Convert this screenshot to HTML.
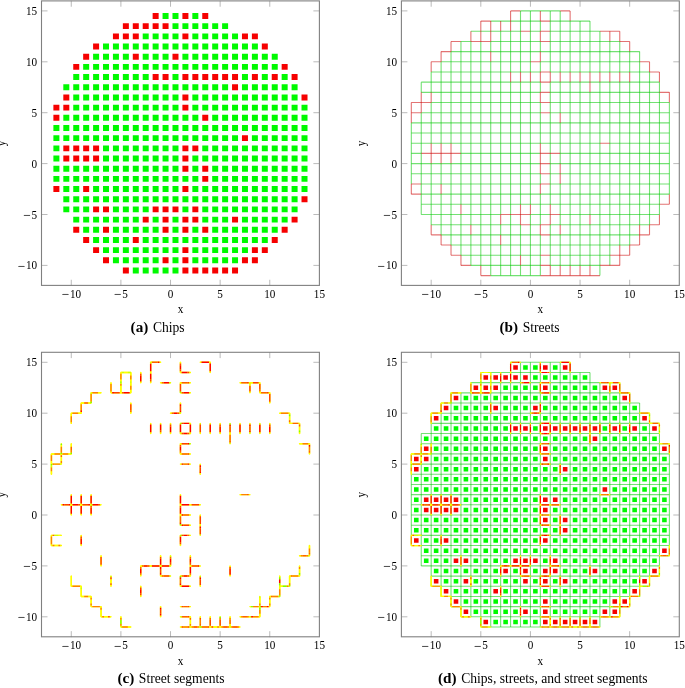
<!DOCTYPE html>
<html><head><meta charset="utf-8"><style>
html,body{margin:0;padding:0;background:#fff;width:685px;height:688px;overflow:hidden}
svg{display:block}
text{font-family:"Liberation Serif",serif;font-size:11.2px;fill:#000}
text.cap{font-size:13.6px}
</style></head><body>
<svg width="685" height="688" viewBox="0 0 685 688"><g transform="translate(0 0)"><path d="M162.56 13.04h6v5.9h-6zM172.49 13.04h6v5.9h-6zM192.34 13.04h6v5.9h-6zM172.49 23.22h6v5.9h-6zM182.41 23.22h6v5.9h-6zM192.34 23.22h6v5.9h-6zM202.26 23.22h6v5.9h-6zM212.19 23.22h6v5.9h-6zM222.11 23.22h6v5.9h-6zM142.71 33.4h6v5.9h-6zM152.64 33.4h6v5.9h-6zM162.56 33.4h6v5.9h-6zM172.49 33.4h6v5.9h-6zM192.34 33.4h6v5.9h-6zM202.26 33.4h6v5.9h-6zM212.19 33.4h6v5.9h-6zM222.11 33.4h6v5.9h-6zM232.04 33.4h6v5.9h-6zM103.01 43.58h6v5.9h-6zM112.94 43.58h6v5.9h-6zM122.86 43.58h6v5.9h-6zM132.79 43.58h6v5.9h-6zM142.71 43.58h6v5.9h-6zM152.64 43.58h6v5.9h-6zM162.56 43.58h6v5.9h-6zM172.49 43.58h6v5.9h-6zM182.41 43.58h6v5.9h-6zM192.34 43.58h6v5.9h-6zM202.26 43.58h6v5.9h-6zM212.19 43.58h6v5.9h-6zM222.11 43.58h6v5.9h-6zM232.04 43.58h6v5.9h-6zM241.96 43.58h6v5.9h-6zM251.89 43.58h6v5.9h-6zM93.09 53.76h6v5.9h-6zM103.01 53.76h6v5.9h-6zM112.94 53.76h6v5.9h-6zM122.86 53.76h6v5.9h-6zM142.71 53.76h6v5.9h-6zM152.64 53.76h6v5.9h-6zM162.56 53.76h6v5.9h-6zM182.41 53.76h6v5.9h-6zM192.34 53.76h6v5.9h-6zM202.26 53.76h6v5.9h-6zM212.19 53.76h6v5.9h-6zM222.11 53.76h6v5.9h-6zM232.04 53.76h6v5.9h-6zM241.96 53.76h6v5.9h-6zM251.89 53.76h6v5.9h-6zM261.81 53.76h6v5.9h-6zM271.74 53.76h6v5.9h-6zM83.16 63.94h6v5.9h-6zM93.09 63.94h6v5.9h-6zM103.01 63.94h6v5.9h-6zM112.94 63.94h6v5.9h-6zM122.86 63.94h6v5.9h-6zM132.79 63.94h6v5.9h-6zM142.71 63.94h6v5.9h-6zM152.64 63.94h6v5.9h-6zM162.56 63.94h6v5.9h-6zM172.49 63.94h6v5.9h-6zM182.41 63.94h6v5.9h-6zM192.34 63.94h6v5.9h-6zM202.26 63.94h6v5.9h-6zM212.19 63.94h6v5.9h-6zM222.11 63.94h6v5.9h-6zM232.04 63.94h6v5.9h-6zM241.96 63.94h6v5.9h-6zM251.89 63.94h6v5.9h-6zM261.81 63.94h6v5.9h-6zM271.74 63.94h6v5.9h-6zM73.24 74.12h6v5.9h-6zM83.16 74.12h6v5.9h-6zM93.09 74.12h6v5.9h-6zM103.01 74.12h6v5.9h-6zM112.94 74.12h6v5.9h-6zM122.86 74.12h6v5.9h-6zM132.79 74.12h6v5.9h-6zM142.71 74.12h6v5.9h-6zM172.49 74.12h6v5.9h-6zM241.96 74.12h6v5.9h-6zM261.81 74.12h6v5.9h-6zM281.66 74.12h6v5.9h-6zM63.31 84.3h6v5.9h-6zM73.24 84.3h6v5.9h-6zM83.16 84.3h6v5.9h-6zM93.09 84.3h6v5.9h-6zM103.01 84.3h6v5.9h-6zM112.94 84.3h6v5.9h-6zM122.86 84.3h6v5.9h-6zM132.79 84.3h6v5.9h-6zM142.71 84.3h6v5.9h-6zM152.64 84.3h6v5.9h-6zM162.56 84.3h6v5.9h-6zM172.49 84.3h6v5.9h-6zM182.41 84.3h6v5.9h-6zM192.34 84.3h6v5.9h-6zM202.26 84.3h6v5.9h-6zM212.19 84.3h6v5.9h-6zM222.11 84.3h6v5.9h-6zM241.96 84.3h6v5.9h-6zM251.89 84.3h6v5.9h-6zM261.81 84.3h6v5.9h-6zM271.74 84.3h6v5.9h-6zM281.66 84.3h6v5.9h-6zM291.59 84.3h6v5.9h-6zM73.24 94.48h6v5.9h-6zM83.16 94.48h6v5.9h-6zM93.09 94.48h6v5.9h-6zM103.01 94.48h6v5.9h-6zM112.94 94.48h6v5.9h-6zM122.86 94.48h6v5.9h-6zM132.79 94.48h6v5.9h-6zM142.71 94.48h6v5.9h-6zM152.64 94.48h6v5.9h-6zM162.56 94.48h6v5.9h-6zM172.49 94.48h6v5.9h-6zM192.34 94.48h6v5.9h-6zM202.26 94.48h6v5.9h-6zM212.19 94.48h6v5.9h-6zM222.11 94.48h6v5.9h-6zM232.04 94.48h6v5.9h-6zM241.96 94.48h6v5.9h-6zM251.89 94.48h6v5.9h-6zM261.81 94.48h6v5.9h-6zM271.74 94.48h6v5.9h-6zM281.66 94.48h6v5.9h-6zM291.59 94.48h6v5.9h-6zM73.24 104.66h6v5.9h-6zM83.16 104.66h6v5.9h-6zM93.09 104.66h6v5.9h-6zM103.01 104.66h6v5.9h-6zM112.94 104.66h6v5.9h-6zM122.86 104.66h6v5.9h-6zM132.79 104.66h6v5.9h-6zM142.71 104.66h6v5.9h-6zM152.64 104.66h6v5.9h-6zM162.56 104.66h6v5.9h-6zM172.49 104.66h6v5.9h-6zM192.34 104.66h6v5.9h-6zM202.26 104.66h6v5.9h-6zM212.19 104.66h6v5.9h-6zM222.11 104.66h6v5.9h-6zM232.04 104.66h6v5.9h-6zM241.96 104.66h6v5.9h-6zM251.89 104.66h6v5.9h-6zM261.81 104.66h6v5.9h-6zM271.74 104.66h6v5.9h-6zM281.66 104.66h6v5.9h-6zM291.59 104.66h6v5.9h-6zM301.51 104.66h6v5.9h-6zM63.31 114.84h6v5.9h-6zM73.24 114.84h6v5.9h-6zM83.16 114.84h6v5.9h-6zM93.09 114.84h6v5.9h-6zM103.01 114.84h6v5.9h-6zM112.94 114.84h6v5.9h-6zM122.86 114.84h6v5.9h-6zM132.79 114.84h6v5.9h-6zM142.71 114.84h6v5.9h-6zM152.64 114.84h6v5.9h-6zM162.56 114.84h6v5.9h-6zM172.49 114.84h6v5.9h-6zM182.41 114.84h6v5.9h-6zM192.34 114.84h6v5.9h-6zM212.19 114.84h6v5.9h-6zM222.11 114.84h6v5.9h-6zM232.04 114.84h6v5.9h-6zM241.96 114.84h6v5.9h-6zM251.89 114.84h6v5.9h-6zM261.81 114.84h6v5.9h-6zM271.74 114.84h6v5.9h-6zM281.66 114.84h6v5.9h-6zM291.59 114.84h6v5.9h-6zM301.51 114.84h6v5.9h-6zM53.39 125.02h6v5.9h-6zM63.31 125.02h6v5.9h-6zM73.24 125.02h6v5.9h-6zM83.16 125.02h6v5.9h-6zM93.09 125.02h6v5.9h-6zM103.01 125.02h6v5.9h-6zM112.94 125.02h6v5.9h-6zM122.86 125.02h6v5.9h-6zM132.79 125.02h6v5.9h-6zM142.71 125.02h6v5.9h-6zM152.64 125.02h6v5.9h-6zM162.56 125.02h6v5.9h-6zM172.49 125.02h6v5.9h-6zM182.41 125.02h6v5.9h-6zM192.34 125.02h6v5.9h-6zM202.26 125.02h6v5.9h-6zM212.19 125.02h6v5.9h-6zM222.11 125.02h6v5.9h-6zM232.04 125.02h6v5.9h-6zM241.96 125.02h6v5.9h-6zM251.89 125.02h6v5.9h-6zM261.81 125.02h6v5.9h-6zM271.74 125.02h6v5.9h-6zM281.66 125.02h6v5.9h-6zM291.59 125.02h6v5.9h-6zM301.51 125.02h6v5.9h-6zM53.39 135.2h6v5.9h-6zM63.31 135.2h6v5.9h-6zM73.24 135.2h6v5.9h-6zM83.16 135.2h6v5.9h-6zM93.09 135.2h6v5.9h-6zM103.01 135.2h6v5.9h-6zM112.94 135.2h6v5.9h-6zM122.86 135.2h6v5.9h-6zM132.79 135.2h6v5.9h-6zM142.71 135.2h6v5.9h-6zM152.64 135.2h6v5.9h-6zM162.56 135.2h6v5.9h-6zM172.49 135.2h6v5.9h-6zM182.41 135.2h6v5.9h-6zM192.34 135.2h6v5.9h-6zM202.26 135.2h6v5.9h-6zM212.19 135.2h6v5.9h-6zM222.11 135.2h6v5.9h-6zM232.04 135.2h6v5.9h-6zM251.89 135.2h6v5.9h-6zM261.81 135.2h6v5.9h-6zM271.74 135.2h6v5.9h-6zM281.66 135.2h6v5.9h-6zM291.59 135.2h6v5.9h-6zM301.51 135.2h6v5.9h-6zM53.39 145.38h6v5.9h-6zM103.01 145.38h6v5.9h-6zM112.94 145.38h6v5.9h-6zM122.86 145.38h6v5.9h-6zM132.79 145.38h6v5.9h-6zM142.71 145.38h6v5.9h-6zM152.64 145.38h6v5.9h-6zM162.56 145.38h6v5.9h-6zM172.49 145.38h6v5.9h-6zM202.26 145.38h6v5.9h-6zM212.19 145.38h6v5.9h-6zM222.11 145.38h6v5.9h-6zM232.04 145.38h6v5.9h-6zM241.96 145.38h6v5.9h-6zM251.89 145.38h6v5.9h-6zM261.81 145.38h6v5.9h-6zM271.74 145.38h6v5.9h-6zM281.66 145.38h6v5.9h-6zM291.59 145.38h6v5.9h-6zM301.51 145.38h6v5.9h-6zM53.39 155.56h6v5.9h-6zM103.01 155.56h6v5.9h-6zM112.94 155.56h6v5.9h-6zM122.86 155.56h6v5.9h-6zM132.79 155.56h6v5.9h-6zM142.71 155.56h6v5.9h-6zM152.64 155.56h6v5.9h-6zM162.56 155.56h6v5.9h-6zM172.49 155.56h6v5.9h-6zM192.34 155.56h6v5.9h-6zM202.26 155.56h6v5.9h-6zM212.19 155.56h6v5.9h-6zM222.11 155.56h6v5.9h-6zM232.04 155.56h6v5.9h-6zM241.96 155.56h6v5.9h-6zM251.89 155.56h6v5.9h-6zM261.81 155.56h6v5.9h-6zM271.74 155.56h6v5.9h-6zM281.66 155.56h6v5.9h-6zM291.59 155.56h6v5.9h-6zM301.51 155.56h6v5.9h-6zM53.39 165.74h6v5.9h-6zM63.31 165.74h6v5.9h-6zM73.24 165.74h6v5.9h-6zM83.16 165.74h6v5.9h-6zM93.09 165.74h6v5.9h-6zM103.01 165.74h6v5.9h-6zM112.94 165.74h6v5.9h-6zM122.86 165.74h6v5.9h-6zM132.79 165.74h6v5.9h-6zM142.71 165.74h6v5.9h-6zM152.64 165.74h6v5.9h-6zM162.56 165.74h6v5.9h-6zM172.49 165.74h6v5.9h-6zM192.34 165.74h6v5.9h-6zM212.19 165.74h6v5.9h-6zM222.11 165.74h6v5.9h-6zM232.04 165.74h6v5.9h-6zM241.96 165.74h6v5.9h-6zM251.89 165.74h6v5.9h-6zM261.81 165.74h6v5.9h-6zM271.74 165.74h6v5.9h-6zM281.66 165.74h6v5.9h-6zM291.59 165.74h6v5.9h-6zM301.51 165.74h6v5.9h-6zM53.39 175.92h6v5.9h-6zM63.31 175.92h6v5.9h-6zM73.24 175.92h6v5.9h-6zM83.16 175.92h6v5.9h-6zM93.09 175.92h6v5.9h-6zM103.01 175.92h6v5.9h-6zM112.94 175.92h6v5.9h-6zM122.86 175.92h6v5.9h-6zM132.79 175.92h6v5.9h-6zM142.71 175.92h6v5.9h-6zM152.64 175.92h6v5.9h-6zM162.56 175.92h6v5.9h-6zM172.49 175.92h6v5.9h-6zM182.41 175.92h6v5.9h-6zM192.34 175.92h6v5.9h-6zM212.19 175.92h6v5.9h-6zM222.11 175.92h6v5.9h-6zM232.04 175.92h6v5.9h-6zM241.96 175.92h6v5.9h-6zM251.89 175.92h6v5.9h-6zM261.81 175.92h6v5.9h-6zM271.74 175.92h6v5.9h-6zM281.66 175.92h6v5.9h-6zM291.59 175.92h6v5.9h-6zM301.51 175.92h6v5.9h-6zM63.31 186.1h6v5.9h-6zM73.24 186.1h6v5.9h-6zM93.09 186.1h6v5.9h-6zM103.01 186.1h6v5.9h-6zM112.94 186.1h6v5.9h-6zM122.86 186.1h6v5.9h-6zM132.79 186.1h6v5.9h-6zM142.71 186.1h6v5.9h-6zM152.64 186.1h6v5.9h-6zM162.56 186.1h6v5.9h-6zM172.49 186.1h6v5.9h-6zM192.34 186.1h6v5.9h-6zM202.26 186.1h6v5.9h-6zM212.19 186.1h6v5.9h-6zM222.11 186.1h6v5.9h-6zM232.04 186.1h6v5.9h-6zM241.96 186.1h6v5.9h-6zM251.89 186.1h6v5.9h-6zM261.81 186.1h6v5.9h-6zM271.74 186.1h6v5.9h-6zM281.66 186.1h6v5.9h-6zM291.59 186.1h6v5.9h-6zM301.51 186.1h6v5.9h-6zM63.31 196.28h6v5.9h-6zM73.24 196.28h6v5.9h-6zM83.16 196.28h6v5.9h-6zM93.09 196.28h6v5.9h-6zM103.01 196.28h6v5.9h-6zM112.94 196.28h6v5.9h-6zM122.86 196.28h6v5.9h-6zM132.79 196.28h6v5.9h-6zM142.71 196.28h6v5.9h-6zM152.64 196.28h6v5.9h-6zM162.56 196.28h6v5.9h-6zM172.49 196.28h6v5.9h-6zM182.41 196.28h6v5.9h-6zM192.34 196.28h6v5.9h-6zM202.26 196.28h6v5.9h-6zM212.19 196.28h6v5.9h-6zM222.11 196.28h6v5.9h-6zM232.04 196.28h6v5.9h-6zM241.96 196.28h6v5.9h-6zM251.89 196.28h6v5.9h-6zM261.81 196.28h6v5.9h-6zM271.74 196.28h6v5.9h-6zM281.66 196.28h6v5.9h-6zM291.59 196.28h6v5.9h-6zM63.31 206.46h6v5.9h-6zM73.24 206.46h6v5.9h-6zM83.16 206.46h6v5.9h-6zM112.94 206.46h6v5.9h-6zM122.86 206.46h6v5.9h-6zM132.79 206.46h6v5.9h-6zM142.71 206.46h6v5.9h-6zM182.41 206.46h6v5.9h-6zM202.26 206.46h6v5.9h-6zM212.19 206.46h6v5.9h-6zM222.11 206.46h6v5.9h-6zM232.04 206.46h6v5.9h-6zM241.96 206.46h6v5.9h-6zM251.89 206.46h6v5.9h-6zM261.81 206.46h6v5.9h-6zM271.74 206.46h6v5.9h-6zM281.66 206.46h6v5.9h-6zM291.59 206.46h6v5.9h-6zM73.24 216.64h6v5.9h-6zM83.16 216.64h6v5.9h-6zM93.09 216.64h6v5.9h-6zM103.01 216.64h6v5.9h-6zM112.94 216.64h6v5.9h-6zM122.86 216.64h6v5.9h-6zM132.79 216.64h6v5.9h-6zM152.64 216.64h6v5.9h-6zM172.49 216.64h6v5.9h-6zM202.26 216.64h6v5.9h-6zM212.19 216.64h6v5.9h-6zM222.11 216.64h6v5.9h-6zM241.96 216.64h6v5.9h-6zM251.89 216.64h6v5.9h-6zM261.81 216.64h6v5.9h-6zM271.74 216.64h6v5.9h-6zM281.66 216.64h6v5.9h-6zM83.16 226.82h6v5.9h-6zM93.09 226.82h6v5.9h-6zM112.94 226.82h6v5.9h-6zM122.86 226.82h6v5.9h-6zM132.79 226.82h6v5.9h-6zM142.71 226.82h6v5.9h-6zM152.64 226.82h6v5.9h-6zM172.49 226.82h6v5.9h-6zM192.34 226.82h6v5.9h-6zM212.19 226.82h6v5.9h-6zM222.11 226.82h6v5.9h-6zM232.04 226.82h6v5.9h-6zM241.96 226.82h6v5.9h-6zM251.89 226.82h6v5.9h-6zM261.81 226.82h6v5.9h-6zM271.74 226.82h6v5.9h-6zM93.09 237h6v5.9h-6zM103.01 237h6v5.9h-6zM112.94 237h6v5.9h-6zM122.86 237h6v5.9h-6zM142.71 237h6v5.9h-6zM152.64 237h6v5.9h-6zM162.56 237h6v5.9h-6zM172.49 237h6v5.9h-6zM182.41 237h6v5.9h-6zM192.34 237h6v5.9h-6zM202.26 237h6v5.9h-6zM212.19 237h6v5.9h-6zM222.11 237h6v5.9h-6zM232.04 237h6v5.9h-6zM241.96 237h6v5.9h-6zM251.89 237h6v5.9h-6zM261.81 237h6v5.9h-6zM103.01 247.18h6v5.9h-6zM112.94 247.18h6v5.9h-6zM122.86 247.18h6v5.9h-6zM132.79 247.18h6v5.9h-6zM142.71 247.18h6v5.9h-6zM152.64 247.18h6v5.9h-6zM162.56 247.18h6v5.9h-6zM172.49 247.18h6v5.9h-6zM192.34 247.18h6v5.9h-6zM202.26 247.18h6v5.9h-6zM212.19 247.18h6v5.9h-6zM222.11 247.18h6v5.9h-6zM232.04 247.18h6v5.9h-6zM241.96 247.18h6v5.9h-6zM112.94 257.36h6v5.9h-6zM122.86 257.36h6v5.9h-6zM132.79 257.36h6v5.9h-6zM142.71 257.36h6v5.9h-6zM152.64 257.36h6v5.9h-6zM172.49 257.36h6v5.9h-6zM192.34 257.36h6v5.9h-6zM202.26 257.36h6v5.9h-6zM212.19 257.36h6v5.9h-6zM222.11 257.36h6v5.9h-6zM232.04 257.36h6v5.9h-6zM132.79 267.54h6v5.9h-6zM142.71 267.54h6v5.9h-6zM152.64 267.54h6v5.9h-6zM162.56 267.54h6v5.9h-6zM172.49 267.54h6v5.9h-6z" fill="#00fa00"/><path d="M152.64 13.04h6v5.9h-6zM182.41 13.04h6v5.9h-6zM202.26 13.04h6v5.9h-6zM122.86 23.22h6v5.9h-6zM132.79 23.22h6v5.9h-6zM142.71 23.22h6v5.9h-6zM152.64 23.22h6v5.9h-6zM162.56 23.22h6v5.9h-6zM112.94 33.4h6v5.9h-6zM122.86 33.4h6v5.9h-6zM132.79 33.4h6v5.9h-6zM182.41 33.4h6v5.9h-6zM241.96 33.4h6v5.9h-6zM251.89 33.4h6v5.9h-6zM93.09 43.58h6v5.9h-6zM261.81 43.58h6v5.9h-6zM83.16 53.76h6v5.9h-6zM132.79 53.76h6v5.9h-6zM172.49 53.76h6v5.9h-6zM73.24 63.94h6v5.9h-6zM281.66 63.94h6v5.9h-6zM152.64 74.12h6v5.9h-6zM162.56 74.12h6v5.9h-6zM182.41 74.12h6v5.9h-6zM192.34 74.12h6v5.9h-6zM202.26 74.12h6v5.9h-6zM212.19 74.12h6v5.9h-6zM222.11 74.12h6v5.9h-6zM232.04 74.12h6v5.9h-6zM251.89 74.12h6v5.9h-6zM271.74 74.12h6v5.9h-6zM291.59 74.12h6v5.9h-6zM232.04 84.3h6v5.9h-6zM63.31 94.48h6v5.9h-6zM182.41 94.48h6v5.9h-6zM301.51 94.48h6v5.9h-6zM53.39 104.66h6v5.9h-6zM63.31 104.66h6v5.9h-6zM182.41 104.66h6v5.9h-6zM53.39 114.84h6v5.9h-6zM202.26 114.84h6v5.9h-6zM241.96 135.2h6v5.9h-6zM63.31 145.38h6v5.9h-6zM73.24 145.38h6v5.9h-6zM83.16 145.38h6v5.9h-6zM93.09 145.38h6v5.9h-6zM182.41 145.38h6v5.9h-6zM192.34 145.38h6v5.9h-6zM63.31 155.56h6v5.9h-6zM73.24 155.56h6v5.9h-6zM83.16 155.56h6v5.9h-6zM93.09 155.56h6v5.9h-6zM182.41 155.56h6v5.9h-6zM182.41 165.74h6v5.9h-6zM202.26 165.74h6v5.9h-6zM202.26 175.92h6v5.9h-6zM53.39 186.1h6v5.9h-6zM83.16 186.1h6v5.9h-6zM182.41 186.1h6v5.9h-6zM301.51 196.28h6v5.9h-6zM93.09 206.46h6v5.9h-6zM103.01 206.46h6v5.9h-6zM152.64 206.46h6v5.9h-6zM162.56 206.46h6v5.9h-6zM172.49 206.46h6v5.9h-6zM192.34 206.46h6v5.9h-6zM142.71 216.64h6v5.9h-6zM162.56 216.64h6v5.9h-6zM182.41 216.64h6v5.9h-6zM192.34 216.64h6v5.9h-6zM232.04 216.64h6v5.9h-6zM291.59 216.64h6v5.9h-6zM73.24 226.82h6v5.9h-6zM103.01 226.82h6v5.9h-6zM162.56 226.82h6v5.9h-6zM182.41 226.82h6v5.9h-6zM202.26 226.82h6v5.9h-6zM281.66 226.82h6v5.9h-6zM83.16 237h6v5.9h-6zM132.79 237h6v5.9h-6zM271.74 237h6v5.9h-6zM93.09 247.18h6v5.9h-6zM182.41 247.18h6v5.9h-6zM251.89 247.18h6v5.9h-6zM261.81 247.18h6v5.9h-6zM103.01 257.36h6v5.9h-6zM162.56 257.36h6v5.9h-6zM182.41 257.36h6v5.9h-6zM241.96 257.36h6v5.9h-6zM251.89 257.36h6v5.9h-6zM122.86 267.54h6v5.9h-6zM182.41 267.54h6v5.9h-6zM192.34 267.54h6v5.9h-6zM202.26 267.54h6v5.9h-6zM212.19 267.54h6v5.9h-6zM222.11 267.54h6v5.9h-6zM232.04 267.54h6v5.9h-6z" fill="#f60000"/><path d="M71.28 285.76v-6M71.28 0.72v6M120.9 285.76v-6M120.9 0.72v6M170.53 285.76v-6M170.53 0.72v6M220.15 285.76v-6M220.15 0.72v6M269.77 285.76v-6M269.77 0.72v6M41.5 265.4h6M319.4 265.4h-6M41.5 214.5h6M319.4 214.5h-6M41.5 163.6h6M319.4 163.6h-6M41.5 112.7h6M319.4 112.7h-6M41.5 61.8h6M319.4 61.8h-6M41.5 10.9h6M319.4 10.9h-6" stroke="#8c8c8c" stroke-width="0.6" fill="none"/><rect x="41.5" y="0.9" width="277.9" height="284.5" fill="none" stroke="#808080" stroke-width="1.1"/><g class="t"><text transform="translate(71.28 298.06) scale(1 1.1)" text-anchor="middle"><tspan font-size="13.4" dy="1.0">−</tspan><tspan dx="1.0" dy="-1.0">10</tspan></text><text transform="translate(120.9 298.06) scale(1 1.1)" text-anchor="middle"><tspan font-size="13.4" dy="1.0">−</tspan><tspan dx="1.0" dy="-1.0">5</tspan></text><text transform="translate(170.53 298.06) scale(1 1.1)" text-anchor="middle">0</text><text transform="translate(220.15 298.06) scale(1 1.1)" text-anchor="middle">5</text><text transform="translate(269.77 298.06) scale(1 1.1)" text-anchor="middle">10</text><text transform="translate(319.4 298.06) scale(1 1.1)" text-anchor="middle">15</text><text transform="translate(37.2 269.4) scale(1 1.1)" text-anchor="end"><tspan font-size="13.4" dy="1.0">−</tspan><tspan dx="1.0" dy="-1.0">10</tspan></text><text transform="translate(37.2 218.5) scale(1 1.1)" text-anchor="end"><tspan font-size="13.4" dy="1.0">−</tspan><tspan dx="1.0" dy="-1.0">5</tspan></text><text transform="translate(37.2 167.6) scale(1 1.1)" text-anchor="end">0</text><text transform="translate(37.2 116.7) scale(1 1.1)" text-anchor="end">5</text><text transform="translate(37.2 65.8) scale(1 1.1)" text-anchor="end">10</text><text transform="translate(37.2 14.9) scale(1 1.1)" text-anchor="end">15</text><text transform="translate(180.5 313.26) scale(1 1.1)" text-anchor="middle">x</text><text transform="translate(5.2 143.4) rotate(-90) scale(1 1.1)" text-anchor="middle">y</text></g><text class="cap" x="130.6" y="332"><tspan font-weight="bold" font-size="15.2">(a)</tspan><tspan dx="4.6">Chips</tspan></text></g><g transform="translate(359.9 0)"><path d="M130.82 275.58H180.45M110.98 265.4H180.45M190.38 265.4H240M101.05 255.22H180.45M190.38 255.22H249.93M91.12 245.04H269.77M81.2 234.86H180.45M190.38 234.86H279.7M71.28 224.68H160.6M170.53 224.68H180.45M190.38 224.68H289.62M61.35 214.5H140.75M170.53 214.5H190.38M200.3 214.5H299.55M61.35 204.32H299.55M61.35 194.14H309.48M61.35 183.96H180.45M190.38 183.96H309.48M51.42 173.78H180.45M190.38 173.78H309.48M51.42 163.6H180.45M190.38 163.6H309.48M51.42 153.42H61.35M101.05 153.42H180.45M200.3 153.42H309.48M51.42 143.24H240M249.93 143.24H309.48M51.42 133.06H309.48M51.42 122.88H309.48M61.35 112.7H180.45M190.38 112.7H309.48M71.28 102.52H180.45M190.38 102.52H309.48M61.35 92.34H180.45M190.38 92.34H299.55M61.35 82.16H180.45M190.38 82.16H299.55M71.28 71.98H180.45M190.38 71.98H289.62M81.2 61.8H170.53M180.45 61.8H279.7M91.12 51.62H279.7M101.05 41.44H110.98M130.82 41.44H180.45M190.38 41.44H259.85M110.98 31.26H160.6M170.53 31.26H180.45M190.38 31.26H240M130.82 21.08H180.45M190.38 21.08H230.08M160.6 10.9H200.3" stroke="#00c800" stroke-opacity="0.55" stroke-width="1.1" fill="none"/><path d="M51.42 183.96V122.88M61.35 214.5V112.7M61.35 92.34V82.16M71.28 224.68V163.6M71.28 143.24V102.52M71.28 92.34V71.98M81.2 234.86V194.14M81.2 183.96V163.6M81.2 143.24V61.8M91.12 245.04V163.6M91.12 143.24V51.62M101.05 255.22V214.5M101.05 204.32V41.44M110.98 265.4V234.86M110.98 224.68V41.44M120.9 265.4V41.44M130.82 275.58V61.8M130.82 51.62V41.44M140.75 275.58V245.04M140.75 234.86V224.68M140.75 214.5V31.26M150.68 275.58V82.16M150.68 71.98V31.26M160.6 275.58V265.4M160.6 255.22V224.68M160.6 204.32V82.16M160.6 71.98V10.9M170.53 275.58V214.5M170.53 204.32V82.16M170.53 71.98V10.9M180.45 275.58V234.86M180.45 224.68V194.14M180.45 183.96V173.78M180.45 143.24V102.52M180.45 92.34V82.16M180.45 71.98V61.8M180.45 51.62V41.44M180.45 31.26V21.08M190.38 265.4V224.68M190.38 204.32V82.16M190.38 71.98V10.9M200.3 265.4V234.86M200.3 224.68V183.96M200.3 163.6V122.88M200.3 112.7V82.16M200.3 71.98V10.9M210.23 265.4V82.16M210.23 71.98V21.08M220.15 265.4V82.16M220.15 71.98V21.08M230.08 265.4V224.68M230.08 214.5V92.34M230.08 71.98V21.08M240 275.58V82.16M240 71.98V31.26M249.93 265.4V82.16M249.93 71.98V41.44M259.85 245.04V82.16M259.85 71.98V41.44M269.77 245.04V82.16M269.77 71.98V51.62M279.7 224.68V51.62M289.62 224.68V71.98M299.55 214.5V82.16M309.48 194.14V102.52" stroke="#00c800" stroke-opacity="0.55" stroke-width="1.1" fill="none"/><path d="M120.9 275.58H130.82M180.45 275.58H240M101.05 265.4H110.98M180.45 265.4H190.38M240 265.4H259.85M91.12 255.22H101.05M180.45 255.22H190.38M249.93 255.22H269.77M81.2 245.04H91.12M269.77 245.04H279.7M71.28 234.86H81.2M180.45 234.86H190.38M279.7 234.86H289.62M160.6 224.68H170.53M180.45 224.68H190.38M289.62 224.68H299.55M140.75 214.5H170.53M190.38 214.5H200.3M299.55 204.32H309.48M51.42 194.14H61.35M51.42 183.96H61.35M180.45 183.96H190.38M180.45 173.78H190.38M180.45 163.6H190.38M61.35 153.42H101.05M180.45 153.42H200.3M240 143.24H249.93M51.42 112.7H61.35M180.45 112.7H190.38M51.42 102.52H71.28M180.45 102.52H190.38M180.45 92.34H190.38M299.55 92.34H309.48M180.45 82.16H190.38M180.45 71.98H190.38M289.62 71.98H299.55M71.28 61.8H81.2M170.53 61.8H180.45M279.7 61.8H289.62M81.2 51.62H91.12M91.12 41.44H101.05M110.98 41.44H130.82M180.45 41.44H190.38M259.85 41.44H269.77M160.6 31.26H170.53M180.45 31.26H190.38M240 31.26H259.85M120.9 21.08H130.82M180.45 21.08H190.38M150.68 10.9H160.6M200.3 10.9H210.23" stroke="#cc0000" stroke-opacity="0.55" stroke-width="1.1" fill="none"/><path d="M51.42 194.14V183.96M51.42 122.88V102.52M61.35 112.7V92.34M71.28 234.86V224.68M71.28 163.6V143.24M71.28 102.52V92.34M71.28 71.98V61.8M81.2 245.04V234.86M81.2 194.14V183.96M81.2 163.6V143.24M81.2 61.8V51.62M91.12 255.22V245.04M91.12 163.6V143.24M91.12 51.62V41.44M101.05 265.4V255.22M101.05 214.5V204.32M110.98 234.86V224.68M110.98 41.44V31.26M120.9 275.58V265.4M120.9 41.44V21.08M130.82 61.8V51.62M130.82 41.44V21.08M140.75 245.04V234.86M140.75 224.68V214.5M140.75 31.26V21.08M150.68 82.16V71.98M150.68 31.26V10.9M160.6 265.4V255.22M160.6 224.68V204.32M160.6 82.16V71.98M170.53 214.5V204.32M170.53 82.16V71.98M180.45 234.86V224.68M180.45 194.14V183.96M180.45 173.78V143.24M180.45 102.52V92.34M180.45 82.16V71.98M180.45 61.8V51.62M180.45 41.44V31.26M180.45 21.08V10.9M190.38 275.58V265.4M190.38 224.68V204.32M190.38 82.16V71.98M200.3 275.58V265.4M200.3 234.86V224.68M200.3 183.96V163.6M200.3 122.88V112.7M200.3 82.16V71.98M210.23 275.58V265.4M210.23 82.16V71.98M210.23 21.08V10.9M220.15 275.58V265.4M220.15 82.16V71.98M230.08 275.58V265.4M230.08 224.68V214.5M230.08 92.34V71.98M240 82.16V71.98M249.93 82.16V71.98M249.93 41.44V31.26M259.85 265.4V245.04M259.85 82.16V71.98M259.85 41.44V31.26M269.77 255.22V245.04M269.77 82.16V71.98M269.77 51.62V41.44M279.7 245.04V224.68M289.62 234.86V224.68M289.62 71.98V61.8M299.55 224.68V214.5M299.55 82.16V71.98M309.48 204.32V194.14M309.48 102.52V92.34" stroke="#cc0000" stroke-opacity="0.55" stroke-width="1.1" fill="none"/><path d="M71.28 285.76v-6M71.28 0.72v6M120.9 285.76v-6M120.9 0.72v6M170.53 285.76v-6M170.53 0.72v6M220.15 285.76v-6M220.15 0.72v6M269.77 285.76v-6M269.77 0.72v6M41.5 265.4h6M319.4 265.4h-6M41.5 214.5h6M319.4 214.5h-6M41.5 163.6h6M319.4 163.6h-6M41.5 112.7h6M319.4 112.7h-6M41.5 61.8h6M319.4 61.8h-6M41.5 10.9h6M319.4 10.9h-6" stroke="#8c8c8c" stroke-width="0.6" fill="none"/><rect x="41.5" y="0.9" width="277.9" height="284.5" fill="none" stroke="#808080" stroke-width="1.1"/><g class="t"><text transform="translate(71.28 298.06) scale(1 1.1)" text-anchor="middle"><tspan font-size="13.4" dy="1.0">−</tspan><tspan dx="1.0" dy="-1.0">10</tspan></text><text transform="translate(120.9 298.06) scale(1 1.1)" text-anchor="middle"><tspan font-size="13.4" dy="1.0">−</tspan><tspan dx="1.0" dy="-1.0">5</tspan></text><text transform="translate(170.53 298.06) scale(1 1.1)" text-anchor="middle">0</text><text transform="translate(220.15 298.06) scale(1 1.1)" text-anchor="middle">5</text><text transform="translate(269.77 298.06) scale(1 1.1)" text-anchor="middle">10</text><text transform="translate(319.4 298.06) scale(1 1.1)" text-anchor="middle">15</text><text transform="translate(37.2 269.4) scale(1 1.1)" text-anchor="end"><tspan font-size="13.4" dy="1.0">−</tspan><tspan dx="1.0" dy="-1.0">10</tspan></text><text transform="translate(37.2 218.5) scale(1 1.1)" text-anchor="end"><tspan font-size="13.4" dy="1.0">−</tspan><tspan dx="1.0" dy="-1.0">5</tspan></text><text transform="translate(37.2 167.6) scale(1 1.1)" text-anchor="end">0</text><text transform="translate(37.2 116.7) scale(1 1.1)" text-anchor="end">5</text><text transform="translate(37.2 65.8) scale(1 1.1)" text-anchor="end">10</text><text transform="translate(37.2 14.9) scale(1 1.1)" text-anchor="end">15</text><text transform="translate(180.5 313.26) scale(1 1.1)" text-anchor="middle">x</text><text transform="translate(5.2 143.4) rotate(-90) scale(1 1.1)" text-anchor="middle">y</text></g><text class="cap" x="139.6" y="332"><tspan font-weight="bold" font-size="15.2">(b)</tspan><tspan dx="4.6">Streets</tspan></text></g><g transform="translate(0 351.4)"><path d="M71.28 71.98L71.28 61.8M71.28 61.8L81.2 61.8M81.2 61.8L81.2 51.62M81.2 51.62L91.12 51.62M91.12 51.62L91.12 41.44M91.12 41.44L101.05 41.44M110.98 41.44L110.98 31.26M110.98 41.44L120.9 41.44M120.9 41.44L130.82 41.44M120.9 41.44L120.9 31.26M120.9 31.26L120.9 21.08M130.82 41.44L130.82 31.26M130.82 31.26L130.82 21.08M120.9 21.08L130.82 21.08M130.82 61.8L130.82 51.62M140.75 31.26L140.75 21.08M150.68 31.26L150.68 21.08M150.68 21.08L150.68 10.9M150.68 10.9L160.6 10.9M160.6 31.26L170.53 31.26M180.45 21.08L180.45 10.9M180.45 21.08L190.38 21.08M180.45 41.44L180.45 31.26M180.45 31.26L190.38 31.26M180.45 41.44L190.38 41.44M200.3 10.9L210.23 10.9M210.23 21.08L210.23 10.9M180.45 61.8L180.45 51.62M170.53 61.8L180.45 61.8M150.68 82.16L150.68 71.98M160.6 82.16L160.6 71.98M170.53 82.16L170.53 71.98M180.45 82.16L180.45 71.98M190.38 82.16L190.38 71.98M200.3 82.16L200.3 71.98M210.23 82.16L210.23 71.98M220.15 82.16L220.15 71.98M230.08 82.16L230.08 71.98M240 82.16L240 71.98M249.93 82.16L249.93 71.98M259.85 82.16L259.85 71.98M269.77 82.16L269.77 71.98M180.45 71.98L190.38 71.98M180.45 82.16L190.38 82.16M180.45 92.34L190.38 92.34M180.45 102.52L180.45 92.34M180.45 102.52L190.38 102.52M240 31.26L249.93 31.26M249.93 31.26L259.85 31.26M249.93 41.44L249.93 31.26M259.85 41.44L259.85 31.26M259.85 41.44L269.77 41.44M269.77 51.62L269.77 41.44M279.7 61.8L289.62 61.8M289.62 71.98L289.62 61.8M289.62 71.98L299.55 71.98M299.55 82.16L299.55 71.98M230.08 92.34L230.08 82.16M299.55 92.34L309.48 92.34M309.48 102.52L309.48 92.34M61.35 112.7L61.35 102.52M61.35 102.52L61.35 92.34M71.28 102.52L71.28 92.34M51.42 102.52L61.35 102.52M61.35 102.52L71.28 102.52M51.42 122.88L51.42 112.7M51.42 112.7L51.42 102.52M51.42 112.7L61.35 112.7M61.35 153.42L71.28 153.42M71.28 153.42L81.2 153.42M81.2 153.42L91.12 153.42M91.12 153.42L101.05 153.42M71.28 163.6L71.28 153.42M71.28 153.42L71.28 143.24M81.2 163.6L81.2 153.42M81.2 153.42L81.2 143.24M91.12 163.6L91.12 153.42M91.12 153.42L91.12 143.24M51.42 183.96L61.35 183.96M51.42 194.14L51.42 183.96M51.42 194.14L61.35 194.14M180.45 112.7L190.38 112.7M200.3 122.88L200.3 112.7M180.45 173.78L180.45 163.6M180.45 163.6L180.45 153.42M180.45 153.42L180.45 143.24M180.45 153.42L190.38 153.42M190.38 153.42L200.3 153.42M180.45 163.6L190.38 163.6M180.45 173.78L190.38 173.78M200.3 183.96L200.3 173.78M200.3 173.78L200.3 163.6M240 143.24L249.93 143.24M81.2 194.14L81.2 183.96M101.05 214.5L101.05 204.32M71.28 234.86L71.28 224.68M71.28 234.86L81.2 234.86M81.2 245.04L81.2 234.86M81.2 245.04L91.12 245.04M91.12 255.22L91.12 245.04M91.12 255.22L101.05 255.22M101.05 265.4L101.05 255.22M101.05 265.4L110.98 265.4M110.98 234.86L110.98 224.68M120.9 275.58L120.9 265.4M120.9 275.58L130.82 275.58M180.45 183.96L190.38 183.96M180.45 194.14L180.45 183.96M160.6 224.68L160.6 214.5M160.6 214.5L160.6 204.32M170.53 214.5L170.53 204.32M140.75 214.5L150.68 214.5M150.68 214.5L160.6 214.5M160.6 214.5L170.53 214.5M140.75 224.68L140.75 214.5M160.6 224.68L170.53 224.68M140.75 245.04L140.75 234.86M190.38 224.68L190.38 214.5M190.38 214.5L190.38 204.32M190.38 214.5L200.3 214.5M180.45 224.68L190.38 224.68M180.45 234.86L180.45 224.68M180.45 234.86L190.38 234.86M200.3 234.86L200.3 224.68M160.6 265.4L160.6 255.22M180.45 255.22L190.38 255.22M180.45 265.4L190.38 265.4M190.38 275.58L190.38 265.4M180.45 275.58L190.38 275.58M190.38 275.58L200.3 275.58M200.3 275.58L210.23 275.58M210.23 275.58L220.15 275.58M220.15 275.58L230.08 275.58M230.08 275.58L240 275.58M200.3 275.58L200.3 265.4M210.23 275.58L210.23 265.4M220.15 275.58L220.15 265.4M230.08 275.58L230.08 265.4M309.48 204.32L309.48 194.14M299.55 204.32L309.48 204.32M230.08 224.68L230.08 214.5M299.55 224.68L299.55 214.5M289.62 224.68L299.55 224.68M289.62 234.86L289.62 224.68M279.7 234.86L289.62 234.86M279.7 245.04L279.7 234.86M279.7 234.86L279.7 224.68M269.77 245.04L279.7 245.04M269.77 255.22L269.77 245.04M249.93 255.22L259.85 255.22M259.85 255.22L269.77 255.22M259.85 265.4L259.85 255.22M259.85 255.22L259.85 245.04M240 265.4L249.93 265.4M249.93 265.4L259.85 265.4" stroke="#ffff00" stroke-width="1.45" stroke-linecap="round" fill="none"/><path d="M71.28 71.98L71.28 70.76M71.28 64.85L71.28 63.02M71.28 63.02L71.28 61.8M71.28 61.8L72.47 61.8M78.22 61.8L80.01 61.8M80.01 61.8L81.2 61.8M81.2 61.8L81.2 60.58M81.2 52.84L81.2 51.62M81.2 51.62L82.39 51.62M82.39 51.62L84.18 51.62M88.15 51.62L89.93 51.62M91.12 41.44L92.32 41.44M98.07 41.44L99.86 41.44M99.86 41.44L101.05 41.44M110.98 41.44L110.98 40.22M110.98 32.48L110.98 31.26M110.98 41.44L112.17 41.44M119.71 41.44L120.9 41.44M120.9 41.44L122.09 41.44M129.63 41.44L130.82 41.44M120.9 41.44L120.9 40.22M120.9 40.22L120.9 38.39M120.9 38.39L120.9 34.31M120.9 30.04L120.9 28.21M120.9 22.3L120.9 21.08M130.82 41.44L130.82 40.22M130.82 40.22L130.82 38.39M130.82 34.31L130.82 32.48M130.82 32.48L130.82 31.26M130.82 30.04L130.82 28.21M130.82 24.13L130.82 22.3M130.82 22.3L130.82 21.08M120.9 21.08L122.09 21.08M123.88 21.08L127.85 21.08M130.82 61.8L130.82 60.58M130.82 52.84L130.82 51.62M140.75 31.26L140.75 30.04M140.75 22.3L140.75 21.08M150.68 31.26L150.68 30.04M150.68 22.3L150.68 21.08M150.68 21.08L150.68 19.86M150.68 10.9L151.87 10.9M159.41 10.9L160.6 10.9M160.6 31.26L161.79 31.26M180.45 21.08L180.45 19.86M180.45 12.12L180.45 10.9M180.45 21.08L181.64 21.08M189.18 21.08L190.38 21.08M180.45 32.48L180.45 31.26M180.45 31.26L181.64 31.26M189.18 31.26L190.38 31.26M180.45 41.44L181.64 41.44M189.18 41.44L190.38 41.44M200.3 10.9L201.49 10.9M209.03 10.9L210.23 10.9M210.23 21.08L210.23 19.86M210.23 12.12L210.23 10.9M180.45 52.84L180.45 51.62M170.53 61.8L171.72 61.8M179.26 61.8L180.45 61.8M150.68 82.16L150.68 80.94M150.68 73.2L150.68 71.98M160.6 82.16L160.6 80.94M160.6 73.2L160.6 71.98M170.53 82.16L170.53 80.94M170.53 73.2L170.53 71.98M180.45 73.2L180.45 71.98M190.38 82.16L190.38 80.94M190.38 73.2L190.38 71.98M200.3 82.16L200.3 80.94M210.23 82.16L210.23 80.94M210.23 73.2L210.23 71.98M220.15 82.16L220.15 80.94M220.15 73.2L220.15 71.98M230.08 82.16L230.08 80.94M240 82.16L240 80.94M240 73.2L240 71.98M249.93 73.2L249.93 71.98M259.85 82.16L259.85 80.94M269.77 82.16L269.77 80.94M269.77 73.2L269.77 71.98M189.18 71.98L190.38 71.98M180.45 82.16L181.64 82.16M189.18 82.16L190.38 82.16M180.45 92.34L181.64 92.34M180.45 102.52L180.45 101.3M180.45 93.56L180.45 92.34M180.45 102.52L181.64 102.52M189.18 102.52L190.38 102.52M240 31.26L241.19 31.26M248.73 31.26L249.93 31.26M249.93 31.26L251.12 31.26M251.12 31.26L252.9 31.26M258.66 31.26L259.85 31.26M249.93 41.44L249.93 40.22M249.93 34.31L249.93 32.48M259.85 41.44L259.85 40.22M259.85 32.48L259.85 31.26M259.85 41.44L261.04 41.44M268.58 41.44L269.77 41.44M269.77 51.62L269.77 50.4M269.77 42.66L269.77 41.44M279.7 61.8L280.89 61.8M288.43 61.8L289.62 61.8M289.62 71.98L289.62 70.76M289.62 68.93L289.62 64.85M289.62 63.02L289.62 61.8M289.62 71.98L290.82 71.98M290.82 71.98L292.6 71.98M298.36 71.98L299.55 71.98M299.55 82.16L299.55 80.94M299.55 79.11L299.55 75.03M299.55 73.2L299.55 71.98M230.08 83.38L230.08 82.16M299.55 92.34L300.74 92.34M300.74 92.34L302.53 92.34M308.28 92.34L309.48 92.34M309.48 102.52L309.48 101.3M309.48 93.56L309.48 92.34M61.35 112.7L61.35 111.48M61.35 109.65L61.35 105.57M61.35 103.74L61.35 102.52M61.35 95.39L61.35 93.56M71.28 95.39L71.28 93.56M71.28 93.56L71.28 92.34M51.42 102.52L52.62 102.52M52.62 102.52L54.4 102.52M60.16 102.52L61.35 102.52M61.35 102.52L62.54 102.52M68.3 102.52L70.08 102.52M70.08 102.52L71.28 102.52M51.42 122.88L51.42 121.66M51.42 121.66L51.42 119.83M51.42 112.7L51.42 111.48M51.42 111.48L51.42 109.65M51.42 103.74L51.42 102.52M51.42 112.7L52.62 112.7M61.35 153.42L62.54 153.42M70.08 153.42L71.28 153.42M71.28 153.42L72.47 153.42M80.01 153.42L81.2 153.42M81.2 153.42L82.39 153.42M89.93 153.42L91.12 153.42M99.86 153.42L101.05 153.42M71.28 163.6L71.28 162.38M71.28 154.64L71.28 153.42M71.28 153.42L71.28 152.2M71.28 144.46L71.28 143.24M81.2 163.6L81.2 162.38M81.2 154.64L81.2 153.42M81.2 153.42L81.2 152.2M81.2 144.46L81.2 143.24M91.12 163.6L91.12 162.38M91.12 153.42L91.12 152.2M91.12 144.46L91.12 143.24M51.42 183.96L52.62 183.96M58.37 183.96L60.16 183.96M60.16 183.96L61.35 183.96M51.42 194.14L51.42 192.92M51.42 185.18L51.42 183.96M51.42 194.14L52.62 194.14M54.4 194.14L58.37 194.14M60.16 194.14L61.35 194.14M180.45 112.7L181.64 112.7M189.18 112.7L190.38 112.7M200.3 122.88L200.3 121.66M200.3 113.92L200.3 112.7M180.45 164.82L180.45 163.6M180.45 163.6L180.45 162.38M180.45 154.64L180.45 153.42M180.45 153.42L180.45 152.2M180.45 144.46L180.45 143.24M180.45 153.42L181.64 153.42M189.18 153.42L190.38 153.42M190.38 153.42L191.57 153.42M199.11 153.42L200.3 153.42M180.45 163.6L181.64 163.6M189.18 163.6L190.38 163.6M180.45 173.78L181.64 173.78M189.18 173.78L190.38 173.78M200.3 175L200.3 173.78M200.3 173.78L200.3 172.56M200.3 164.82L200.3 163.6M240 143.24L241.19 143.24M248.73 143.24L249.93 143.24M81.2 194.14L81.2 192.92M81.2 185.18L81.2 183.96M101.05 214.5L101.05 213.28M101.05 205.54L101.05 204.32M71.28 234.86L71.28 233.64M71.28 233.64L71.28 231.81M71.28 231.81L71.28 227.73M71.28 227.73L71.28 225.9M71.28 225.9L71.28 224.68M71.28 234.86L72.47 234.86M80.01 234.86L81.2 234.86M81.2 245.04L81.2 243.82M81.2 243.82L81.2 241.99M81.2 241.99L81.2 237.91M81.2 236.08L81.2 234.86M81.2 245.04L82.39 245.04M82.39 245.04L84.18 245.04M88.15 245.04L89.93 245.04M89.93 245.04L91.12 245.04M91.12 255.22L91.12 254M91.12 252.17L91.12 248.09M91.12 246.26L91.12 245.04M91.12 255.22L92.32 255.22M99.86 255.22L101.05 255.22M101.05 265.4L101.05 264.18M101.05 264.18L101.05 262.35M101.05 262.35L101.05 258.27M101.05 256.44L101.05 255.22M101.05 265.4L102.24 265.4M104.03 265.4L108 265.4M109.78 265.4L110.98 265.4M110.98 234.86L110.98 233.64M110.98 231.81L110.98 227.73M120.9 275.58L120.9 274.36M120.9 266.62L120.9 265.4M127.85 275.58L129.63 275.58M129.63 275.58L130.82 275.58M189.18 183.96L190.38 183.96M180.45 194.14L180.45 192.92M160.6 224.68L160.6 223.46M160.6 215.72L160.6 214.5M160.6 214.5L160.6 213.28M160.6 205.54L160.6 204.32M170.53 214.5L170.53 213.28M140.75 214.5L141.94 214.5M149.48 214.5L150.68 214.5M150.68 214.5L151.87 214.5M159.41 214.5L160.6 214.5M160.6 214.5L161.79 214.5M140.75 224.68L140.75 223.46M140.75 215.72L140.75 214.5M160.6 224.68L161.79 224.68M140.75 245.04L140.75 243.82M140.75 236.08L140.75 234.86M190.38 224.68L190.38 223.46M190.38 215.72L190.38 214.5M190.38 214.5L190.38 213.28M190.38 205.54L190.38 204.32M190.38 214.5L191.57 214.5M199.11 214.5L200.3 214.5M180.45 224.68L181.64 224.68M189.18 224.68L190.38 224.68M180.45 234.86L180.45 233.64M180.45 234.86L181.64 234.86M189.18 234.86L190.38 234.86M200.3 234.86L200.3 233.64M160.6 265.4L160.6 264.18M160.6 256.44L160.6 255.22M180.45 255.22L181.64 255.22M189.18 255.22L190.38 255.22M189.18 265.4L190.38 265.4M190.38 275.58L190.38 274.36M190.38 272.53L190.38 268.45M190.38 266.62L190.38 265.4M180.45 275.58L181.64 275.58M190.38 275.58L191.57 275.58M209.03 275.58L210.23 275.58M210.23 275.58L211.42 275.58M213.2 275.58L217.17 275.58M218.96 275.58L220.15 275.58M220.15 275.58L221.34 275.58M228.88 275.58L230.08 275.58M238.81 275.58L240 275.58M200.3 275.58L200.3 274.36M200.3 266.62L200.3 265.4M210.23 275.58L210.23 274.36M210.23 266.62L210.23 265.4M220.15 275.58L220.15 274.36M230.08 275.58L230.08 274.36M230.08 274.36L230.08 272.53M230.08 266.62L230.08 265.4M309.48 204.32L309.48 203.1M309.48 197.19L309.48 195.36M309.48 195.36L309.48 194.14M299.55 204.32L300.74 204.32M230.08 224.68L230.08 223.46M230.08 215.72L230.08 214.5M299.55 224.68L299.55 223.46M299.55 221.63L299.55 217.55M299.55 215.72L299.55 214.5M289.62 224.68L290.82 224.68M298.36 224.68L299.55 224.68M289.62 231.81L289.62 227.73M289.62 227.73L289.62 225.9M289.62 225.9L289.62 224.68M279.7 234.86L280.89 234.86M280.89 234.86L282.68 234.86M288.43 234.86L289.62 234.86M279.7 237.91L279.7 236.08M279.7 236.08L279.7 234.86M279.7 225.9L279.7 224.68M269.77 245.04L270.97 245.04M269.77 255.22L269.77 254M269.77 252.17L269.77 248.09M269.77 246.26L269.77 245.04M249.93 255.22L251.12 255.22M258.66 255.22L259.85 255.22M268.58 255.22L269.77 255.22M259.85 265.4L259.85 264.18M259.85 264.18L259.85 262.35M259.85 256.44L259.85 255.22M259.85 255.22L259.85 254M259.85 252.17L259.85 248.09M259.85 248.09L259.85 246.26M240 265.4L241.19 265.4M248.73 265.4L249.93 265.4M258.66 265.4L259.85 265.4" stroke="#ffff00" stroke-width="1.45" stroke-linecap="butt" fill="none"/><path d="M71.28 70.76L71.28 68.93M71.28 68.93L71.28 64.85M72.47 61.8L74.25 61.8M74.25 61.8L78.22 61.8M81.2 58.75L81.2 54.67M81.2 54.67L81.2 52.84M91.12 50.4L91.12 48.57M91.12 48.57L91.12 44.49M91.12 44.49L91.12 42.66M92.32 41.44L94.1 41.44M94.1 41.44L98.07 41.44M110.98 40.22L110.98 38.39M110.98 38.39L110.98 34.31M110.98 34.31L110.98 32.48M120.9 34.31L120.9 32.48M120.9 28.21L120.9 24.13M120.9 24.13L120.9 22.3M130.82 38.39L130.82 34.31M130.82 28.21L130.82 24.13M280.89 61.8L282.68 61.8M282.68 61.8L286.65 61.8M286.65 61.8L288.43 61.8M302.53 92.34L306.5 92.34M306.5 92.34L308.28 92.34M309.48 99.47L309.48 95.39M61.35 111.48L61.35 109.65M61.35 101.3L61.35 99.47M61.35 99.47L61.35 95.39M71.28 101.3L71.28 99.47M54.4 102.52L58.37 102.52M58.37 102.52L60.16 102.52M62.54 102.52L64.33 102.52M64.33 102.52L68.3 102.52M51.42 119.83L51.42 115.75M51.42 109.65L51.42 105.57M51.42 105.57L51.42 103.74M54.4 112.7L58.37 112.7M58.37 112.7L60.16 112.7M51.42 192.92L51.42 191.09M51.42 191.09L51.42 187.01M51.42 187.01L51.42 185.18M52.62 194.14L54.4 194.14M58.37 194.14L60.16 194.14M241.19 143.24L242.98 143.24M242.98 143.24L246.95 143.24M72.47 234.86L74.25 234.86M74.25 234.86L78.22 234.86M78.22 234.86L80.01 234.86M84.18 245.04L88.15 245.04M91.12 254L91.12 252.17M91.12 248.09L91.12 246.26M92.32 255.22L94.1 255.22M94.1 255.22L98.07 255.22M98.07 255.22L99.86 255.22M101.05 258.27L101.05 256.44M102.24 265.4L104.03 265.4M120.9 274.36L120.9 272.53M120.9 268.45L120.9 266.62M122.09 275.58L123.88 275.58M123.88 275.58L127.85 275.58M190.38 274.36L190.38 272.53M183.43 275.58L187.4 275.58M191.57 275.58L193.35 275.58M197.32 275.58L199.11 275.58M217.17 275.58L218.96 275.58M221.34 275.58L223.13 275.58M200.3 272.53L200.3 268.45M220.15 268.45L220.15 266.62M230.08 268.45L230.08 266.62M309.48 201.27L309.48 197.19M300.74 204.32L302.53 204.32M306.5 204.32L308.28 204.32M299.55 217.55L299.55 215.72M292.6 224.68L296.57 224.68M296.57 224.68L298.36 224.68M289.62 233.64L289.62 231.81M286.65 234.86L288.43 234.86M279.7 243.82L279.7 241.99M279.7 241.99L279.7 237.91M272.75 245.04L276.72 245.04M276.72 245.04L278.51 245.04M269.77 254L269.77 252.17M269.77 248.09L269.77 246.26M252.9 255.22L256.87 255.22M256.87 255.22L258.66 255.22M262.83 255.22L266.8 255.22M259.85 262.35L259.85 258.27M259.85 254L259.85 252.17M241.19 265.4L242.98 265.4M246.95 265.4L248.73 265.4M252.9 265.4L256.87 265.4M256.87 265.4L258.66 265.4" stroke="#ff8000" stroke-width="1.45" stroke-linecap="butt" fill="none"/><path d="M81.2 60.58L81.2 58.75M112.17 41.44L113.95 41.44M123.88 41.44L127.85 41.44M127.85 41.44L129.63 41.44M140.75 30.04L140.75 28.21M140.75 28.21L140.75 24.13M150.68 28.21L150.68 24.13M150.68 24.13L150.68 22.3M150.68 19.86L150.68 18.03M150.68 18.03L150.68 13.95M150.68 13.95L150.68 12.12M157.62 10.9L159.41 10.9M163.58 31.26L167.55 31.26M167.55 31.26L169.33 31.26M180.45 18.03L180.45 13.95M181.64 21.08L183.43 21.08M183.43 21.08L187.4 21.08M183.43 41.44L187.4 41.44M187.4 41.44L189.18 41.44M201.49 10.9L203.28 10.9M203.28 10.9L207.25 10.9M207.25 10.9L209.03 10.9M210.23 19.86L210.23 18.03M210.23 18.03L210.23 13.95M210.23 13.95L210.23 12.12M180.45 60.58L180.45 58.75M180.45 54.67L180.45 52.84M173.5 61.8L177.47 61.8M150.68 80.94L150.68 79.11M150.68 79.11L150.68 75.03M150.68 75.03L150.68 73.2M160.6 79.11L160.6 75.03M160.6 75.03L160.6 73.2M170.53 80.94L170.53 79.11M170.53 79.11L170.53 75.03M180.45 80.94L180.45 79.11M180.45 79.11L180.45 75.03M180.45 75.03L180.45 73.2M190.38 80.94L190.38 79.11M190.38 79.11L190.38 75.03M190.38 75.03L190.38 73.2M210.23 80.94L210.23 79.11M210.23 79.11L210.23 75.03M210.23 75.03L210.23 73.2M220.15 80.94L220.15 79.11M220.15 79.11L220.15 75.03M230.08 75.03L230.08 73.2M240 80.94L240 79.11M240 79.11L240 75.03M240 75.03L240 73.2M249.93 80.94L249.93 79.11M249.93 75.03L249.93 73.2M259.85 80.94L259.85 79.11M259.85 79.11L259.85 75.03M259.85 75.03L259.85 73.2M269.77 80.94L269.77 79.11M269.77 79.11L269.77 75.03M183.43 71.98L187.4 71.98M187.4 71.98L189.18 71.98M183.43 82.16L187.4 82.16M187.4 92.34L189.18 92.34M180.45 99.47L180.45 95.39M309.48 95.39L309.48 93.56M62.54 153.42L64.33 153.42M68.3 153.42L70.08 153.42M72.47 153.42L74.25 153.42M74.25 153.42L78.22 153.42M88.15 153.42L89.93 153.42M92.32 153.42L94.1 153.42M94.1 153.42L98.07 153.42M71.28 162.38L71.28 160.55M71.28 160.55L71.28 156.47M71.28 156.47L71.28 154.64M71.28 152.2L71.28 150.37M71.28 150.37L71.28 146.29M71.28 146.29L71.28 144.46M81.2 162.38L81.2 160.55M81.2 160.55L81.2 156.47M81.2 156.47L81.2 154.64M81.2 152.2L81.2 150.37M81.2 150.37L81.2 146.29M81.2 146.29L81.2 144.46M91.12 162.38L91.12 160.55M91.12 160.55L91.12 156.47M91.12 152.2L91.12 150.37M91.12 150.37L91.12 146.29M91.12 146.29L91.12 144.46M181.64 112.7L183.43 112.7M187.4 112.7L189.18 112.7M200.3 121.66L200.3 119.83M200.3 115.75L200.3 113.92M180.45 172.56L180.45 170.73M180.45 162.38L180.45 160.55M180.45 160.55L180.45 156.47M180.45 152.2L180.45 150.37M180.45 150.37L180.45 146.29M180.45 146.29L180.45 144.46M181.64 153.42L183.43 153.42M183.43 153.42L187.4 153.42M187.4 153.42L189.18 153.42M181.64 163.6L183.43 163.6M181.64 173.78L183.43 173.78M200.3 176.83L200.3 175M81.2 192.92L81.2 191.09M81.2 191.09L81.2 187.01M183.43 183.96L187.4 183.96M180.45 191.09L180.45 187.01M180.45 187.01L180.45 185.18M160.6 223.46L160.6 221.63M160.6 217.55L160.6 215.72M160.6 213.28L160.6 211.45M160.6 211.45L160.6 207.37M170.53 211.45L170.53 207.37M143.73 214.5L147.7 214.5M151.87 214.5L153.65 214.5M153.65 214.5L157.62 214.5M157.62 214.5L159.41 214.5M161.79 214.5L163.58 214.5M163.58 214.5L167.55 214.5M167.55 214.5L169.33 214.5M140.75 221.63L140.75 217.55M140.75 241.99L140.75 237.91M190.38 221.63L190.38 217.55M190.38 217.55L190.38 215.72M190.38 211.45L190.38 207.37M197.32 214.5L199.11 214.5M183.43 224.68L187.4 224.68M180.45 233.64L180.45 231.81M180.45 227.73L180.45 225.9M181.64 234.86L183.43 234.86M183.43 234.86L187.4 234.86M187.4 234.86L189.18 234.86M200.3 227.73L200.3 225.9M160.6 264.18L160.6 262.35M160.6 258.27L160.6 256.44M230.08 223.46L230.08 221.63M230.08 221.63L230.08 217.55M279.7 231.81L279.7 227.73M261.04 255.22L262.83 255.22M266.8 255.22L268.58 255.22M251.12 265.4L252.9 265.4" stroke="#ff0000" stroke-width="1.45" stroke-linecap="butt" fill="none"/><path d="M84.18 51.62L88.15 51.62M130.82 60.58L130.82 58.75M151.87 10.9L153.65 10.9M153.65 10.9L157.62 10.9M161.79 31.26L163.58 31.26M181.64 31.26L183.43 31.26M183.43 31.26L187.4 31.26M171.72 61.8L173.5 61.8M180.45 101.3L180.45 99.47M181.64 102.52L183.43 102.52M183.43 102.52L187.4 102.52M241.19 31.26L242.98 31.26M242.98 31.26L246.95 31.26M259.85 40.22L259.85 38.39M261.04 41.44L262.83 41.44M262.83 41.44L266.8 41.44M289.62 70.76L289.62 68.93M292.6 71.98L296.57 71.98M296.57 71.98L298.36 71.98M299.55 75.03L299.55 73.2M230.08 89.29L230.08 85.21M230.08 85.21L230.08 83.38M309.48 101.3L309.48 99.47M61.35 105.57L61.35 103.74M71.28 99.47L71.28 95.39M52.62 112.7L54.4 112.7M52.62 183.96L54.4 183.96M183.43 112.7L187.4 112.7M180.45 170.73L180.45 166.65M180.45 166.65L180.45 164.82M183.43 163.6L187.4 163.6M187.4 163.6L189.18 163.6M246.95 143.24L248.73 143.24M108 265.4L109.78 265.4M110.98 233.64L110.98 231.81M187.4 183.96L189.18 183.96M170.53 207.37L170.53 205.54M141.94 214.5L143.73 214.5M140.75 223.46L140.75 221.63M140.75 217.55L140.75 215.72M161.79 224.68L163.58 224.68M190.38 223.46L190.38 221.63M190.38 207.37L190.38 205.54M181.64 224.68L183.43 224.68M180.45 231.81L180.45 227.73M183.43 255.22L187.4 255.22M181.64 265.4L183.43 265.4M183.43 265.4L187.4 265.4M190.38 268.45L190.38 266.62M201.49 275.58L203.28 275.58M203.28 275.58L207.25 275.58M227.1 275.58L228.88 275.58M231.27 275.58L233.05 275.58M237.02 275.58L238.81 275.58M200.3 274.36L200.3 272.53M210.23 268.45L210.23 266.62M230.08 272.53L230.08 268.45M309.48 203.1L309.48 201.27M302.53 204.32L306.5 204.32M290.82 224.68L292.6 224.68M270.97 245.04L272.75 245.04M242.98 265.4L246.95 265.4" stroke="#ff6000" stroke-width="1.45" stroke-linecap="butt" fill="none"/><path d="M89.93 51.62L91.12 51.62M91.12 42.66L91.12 41.44M120.9 32.48L120.9 31.26M130.82 31.26L130.82 30.04M122.09 21.08L123.88 21.08M127.85 21.08L129.63 21.08M129.63 21.08L130.82 21.08M150.68 12.12L150.68 10.9M169.33 31.26L170.53 31.26M180.45 61.8L180.45 60.58M180.45 82.16L180.45 80.94M200.3 73.2L200.3 71.98M249.93 82.16L249.93 80.94M259.85 73.2L259.85 71.98M249.93 32.48L249.93 31.26M230.08 92.34L230.08 91.12M51.42 115.75L51.42 113.92M60.16 112.7L61.35 112.7M91.12 153.42L92.32 153.42M91.12 154.64L91.12 153.42M54.4 183.96L58.37 183.96M200.3 183.96L200.3 182.74M81.2 237.91L81.2 236.08M110.98 225.9L110.98 224.68M120.9 275.58L122.09 275.58M180.45 185.18L180.45 183.96M170.53 205.54L170.53 204.32M169.33 214.5L170.53 214.5M169.33 224.68L170.53 224.68M200.3 225.9L200.3 224.68M180.45 265.4L181.64 265.4M189.18 275.58L190.38 275.58M199.11 275.58L200.3 275.58M230.08 275.58L231.27 275.58M308.28 204.32L309.48 204.32M279.7 234.86L279.7 233.64M278.51 245.04L279.7 245.04M259.85 246.26L259.85 245.04M249.93 265.4L251.12 265.4" stroke="#d0ff00" stroke-width="1.45" stroke-linecap="butt" fill="none"/><path d="M91.12 51.62L91.12 50.4M120.9 31.26L120.9 30.04M180.45 41.44L180.45 40.22M230.08 73.2L230.08 71.98M180.45 71.98L181.64 71.98M189.18 92.34L190.38 92.34M289.62 64.85L289.62 63.02M299.55 80.94L299.55 79.11M61.35 102.52L61.35 101.3M61.35 93.56L61.35 92.34M71.28 102.52L71.28 101.3M51.42 113.92L51.42 112.7M180.45 173.78L180.45 172.56M120.9 272.53L120.9 268.45M180.45 183.96L181.64 183.96M180.45 225.9L180.45 224.68M200.3 275.58L201.49 275.58M220.15 266.62L220.15 265.4M299.55 223.46L299.55 221.63M289.62 234.86L289.62 233.64M282.68 234.86L286.65 234.86M279.7 245.04L279.7 243.82M279.7 233.64L279.7 231.81M279.7 227.73L279.7 225.9M251.12 255.22L252.9 255.22M259.85 255.22L261.04 255.22M259.85 258.27L259.85 256.44" stroke="#80ff00" stroke-width="1.45" stroke-linecap="butt" fill="none"/><path d="M113.95 41.44L117.92 41.44M117.92 41.44L119.71 41.44M122.09 41.44L123.88 41.44M130.82 58.75L130.82 54.67M130.82 54.67L130.82 52.84M140.75 24.13L140.75 22.3M150.68 30.04L150.68 28.21M180.45 19.86L180.45 18.03M180.45 13.95L180.45 12.12M187.4 21.08L189.18 21.08M180.45 40.22L180.45 38.39M180.45 38.39L180.45 34.31M180.45 34.31L180.45 32.48M187.4 31.26L189.18 31.26M181.64 41.44L183.43 41.44M180.45 58.75L180.45 54.67M177.47 61.8L179.26 61.8M160.6 80.94L160.6 79.11M170.53 75.03L170.53 73.2M200.3 80.94L200.3 79.11M200.3 79.11L200.3 75.03M200.3 75.03L200.3 73.2M220.15 75.03L220.15 73.2M230.08 80.94L230.08 79.11M230.08 79.11L230.08 75.03M249.93 79.11L249.93 75.03M269.77 75.03L269.77 73.2M181.64 71.98L183.43 71.98M181.64 82.16L183.43 82.16M187.4 82.16L189.18 82.16M181.64 92.34L183.43 92.34M183.43 92.34L187.4 92.34M180.45 95.39L180.45 93.56M187.4 102.52L189.18 102.52M246.95 31.26L248.73 31.26M252.9 31.26L256.87 31.26M256.87 31.26L258.66 31.26M249.93 40.22L249.93 38.39M249.93 38.39L249.93 34.31M259.85 38.39L259.85 34.31M259.85 34.31L259.85 32.48M266.8 41.44L268.58 41.44M269.77 50.4L269.77 48.57M269.77 48.57L269.77 44.49M269.77 44.49L269.77 42.66M230.08 91.12L230.08 89.29M64.33 153.42L68.3 153.42M78.22 153.42L80.01 153.42M82.39 153.42L84.18 153.42M84.18 153.42L88.15 153.42M98.07 153.42L99.86 153.42M91.12 156.47L91.12 154.64M200.3 119.83L200.3 115.75M180.45 156.47L180.45 154.64M191.57 153.42L193.35 153.42M193.35 153.42L197.32 153.42M197.32 153.42L199.11 153.42M183.43 173.78L187.4 173.78M187.4 173.78L189.18 173.78M200.3 182.74L200.3 180.91M200.3 180.91L200.3 176.83M200.3 172.56L200.3 170.73M200.3 170.73L200.3 166.65M200.3 166.65L200.3 164.82M81.2 187.01L81.2 185.18M101.05 213.28L101.05 211.45M101.05 211.45L101.05 207.37M101.05 207.37L101.05 205.54M110.98 227.73L110.98 225.9M181.64 183.96L183.43 183.96M180.45 192.92L180.45 191.09M160.6 221.63L160.6 217.55M160.6 207.37L160.6 205.54M170.53 213.28L170.53 211.45M147.7 214.5L149.48 214.5M163.58 224.68L167.55 224.68M167.55 224.68L169.33 224.68M140.75 243.82L140.75 241.99M140.75 237.91L140.75 236.08M190.38 213.28L190.38 211.45M191.57 214.5L193.35 214.5M193.35 214.5L197.32 214.5M187.4 224.68L189.18 224.68M200.3 233.64L200.3 231.81M200.3 231.81L200.3 227.73M160.6 262.35L160.6 258.27M181.64 255.22L183.43 255.22M187.4 255.22L189.18 255.22M187.4 265.4L189.18 265.4M181.64 275.58L183.43 275.58M187.4 275.58L189.18 275.58M193.35 275.58L197.32 275.58M207.25 275.58L209.03 275.58M211.42 275.58L213.2 275.58M223.13 275.58L227.1 275.58M233.05 275.58L237.02 275.58M200.3 268.45L200.3 266.62M210.23 274.36L210.23 272.53M210.23 272.53L210.23 268.45M220.15 274.36L220.15 272.53M220.15 272.53L220.15 268.45M230.08 217.55L230.08 215.72" stroke="#ff4000" stroke-width="1.45" stroke-linecap="butt" fill="none"/><path d="M71.28 285.76v-6M71.28 0.72v6M120.9 285.76v-6M120.9 0.72v6M170.53 285.76v-6M170.53 0.72v6M220.15 285.76v-6M220.15 0.72v6M269.77 285.76v-6M269.77 0.72v6M41.5 265.4h6M319.4 265.4h-6M41.5 214.5h6M319.4 214.5h-6M41.5 163.6h6M319.4 163.6h-6M41.5 112.7h6M319.4 112.7h-6M41.5 61.8h6M319.4 61.8h-6M41.5 10.9h6M319.4 10.9h-6" stroke="#8c8c8c" stroke-width="0.6" fill="none"/><rect x="41.5" y="0.9" width="277.9" height="284.5" fill="none" stroke="#808080" stroke-width="1.1"/><g class="t"><text transform="translate(71.28 298.06) scale(1 1.1)" text-anchor="middle"><tspan font-size="13.4" dy="1.0">−</tspan><tspan dx="1.0" dy="-1.0">10</tspan></text><text transform="translate(120.9 298.06) scale(1 1.1)" text-anchor="middle"><tspan font-size="13.4" dy="1.0">−</tspan><tspan dx="1.0" dy="-1.0">5</tspan></text><text transform="translate(170.53 298.06) scale(1 1.1)" text-anchor="middle">0</text><text transform="translate(220.15 298.06) scale(1 1.1)" text-anchor="middle">5</text><text transform="translate(269.77 298.06) scale(1 1.1)" text-anchor="middle">10</text><text transform="translate(319.4 298.06) scale(1 1.1)" text-anchor="middle">15</text><text transform="translate(37.2 269.4) scale(1 1.1)" text-anchor="end"><tspan font-size="13.4" dy="1.0">−</tspan><tspan dx="1.0" dy="-1.0">10</tspan></text><text transform="translate(37.2 218.5) scale(1 1.1)" text-anchor="end"><tspan font-size="13.4" dy="1.0">−</tspan><tspan dx="1.0" dy="-1.0">5</tspan></text><text transform="translate(37.2 167.6) scale(1 1.1)" text-anchor="end">0</text><text transform="translate(37.2 116.7) scale(1 1.1)" text-anchor="end">5</text><text transform="translate(37.2 65.8) scale(1 1.1)" text-anchor="end">10</text><text transform="translate(37.2 14.9) scale(1 1.1)" text-anchor="end">15</text><text transform="translate(180.5 313.26) scale(1 1.1)" text-anchor="middle">x</text><text transform="translate(5.2 143.4) rotate(-90) scale(1 1.1)" text-anchor="middle">y</text></g><text class="cap" x="117.4" y="331.6"><tspan font-weight="bold" font-size="15.2">(c)</tspan><tspan dx="4.6">Street segments</tspan></text></g><g transform="translate(359.9 351.4)"><path d="M120.9 275.58H240M101.05 265.4H259.85M91.12 255.22H269.77M81.2 245.04H279.7M71.28 234.86H289.62M71.28 224.68H299.55M61.35 214.5H299.55M61.35 204.32H309.48M51.42 194.14H309.48M51.42 183.96H309.48M51.42 173.78H309.48M51.42 163.6H309.48M51.42 153.42H309.48M51.42 143.24H309.48M51.42 133.06H309.48M51.42 122.88H309.48M51.42 112.7H309.48M51.42 102.52H309.48M61.35 92.34H309.48M61.35 82.16H299.55M71.28 71.98H299.55M71.28 61.8H289.62M81.2 51.62H279.7M91.12 41.44H269.77M110.98 31.26H259.85M120.9 21.08H230.08M150.68 10.9H210.23" stroke="#00c800" stroke-opacity="0.55" stroke-width="1.1" fill="none"/><path d="M51.42 194.14V102.52M61.35 214.5V82.16M71.28 234.86V61.8M81.2 245.04V51.62M91.12 255.22V41.44M101.05 265.4V41.44M110.98 265.4V31.26M120.9 275.58V21.08M130.82 275.58V21.08M140.75 275.58V21.08M150.68 275.58V10.9M160.6 275.58V10.9M170.53 275.58V10.9M180.45 275.58V10.9M190.38 275.58V10.9M200.3 275.58V10.9M210.23 275.58V10.9M220.15 275.58V21.08M230.08 275.58V21.08M240 275.58V31.26M249.93 265.4V31.26M259.85 265.4V31.26M269.77 255.22V41.44M279.7 245.04V51.62M289.62 234.86V61.8M299.55 224.68V71.98M309.48 204.32V92.34" stroke="#00c800" stroke-opacity="0.55" stroke-width="1.1" fill="none"/><path d="M163.26 13.74h4.6v4.5h-4.6zM173.19 13.74h4.6v4.5h-4.6zM193.04 13.74h4.6v4.5h-4.6zM173.19 23.92h4.6v4.5h-4.6zM183.11 23.92h4.6v4.5h-4.6zM193.04 23.92h4.6v4.5h-4.6zM202.96 23.92h4.6v4.5h-4.6zM212.89 23.92h4.6v4.5h-4.6zM222.81 23.92h4.6v4.5h-4.6zM143.41 34.1h4.6v4.5h-4.6zM153.34 34.1h4.6v4.5h-4.6zM163.26 34.1h4.6v4.5h-4.6zM173.19 34.1h4.6v4.5h-4.6zM193.04 34.1h4.6v4.5h-4.6zM202.96 34.1h4.6v4.5h-4.6zM212.89 34.1h4.6v4.5h-4.6zM222.81 34.1h4.6v4.5h-4.6zM232.74 34.1h4.6v4.5h-4.6zM103.71 44.28h4.6v4.5h-4.6zM113.64 44.28h4.6v4.5h-4.6zM123.56 44.28h4.6v4.5h-4.6zM133.49 44.28h4.6v4.5h-4.6zM143.41 44.28h4.6v4.5h-4.6zM153.34 44.28h4.6v4.5h-4.6zM163.26 44.28h4.6v4.5h-4.6zM173.19 44.28h4.6v4.5h-4.6zM183.11 44.28h4.6v4.5h-4.6zM193.04 44.28h4.6v4.5h-4.6zM202.96 44.28h4.6v4.5h-4.6zM212.89 44.28h4.6v4.5h-4.6zM222.81 44.28h4.6v4.5h-4.6zM232.74 44.28h4.6v4.5h-4.6zM242.66 44.28h4.6v4.5h-4.6zM252.59 44.28h4.6v4.5h-4.6zM93.79 54.46h4.6v4.5h-4.6zM103.71 54.46h4.6v4.5h-4.6zM113.64 54.46h4.6v4.5h-4.6zM123.56 54.46h4.6v4.5h-4.6zM143.41 54.46h4.6v4.5h-4.6zM153.34 54.46h4.6v4.5h-4.6zM163.26 54.46h4.6v4.5h-4.6zM183.11 54.46h4.6v4.5h-4.6zM193.04 54.46h4.6v4.5h-4.6zM202.96 54.46h4.6v4.5h-4.6zM212.89 54.46h4.6v4.5h-4.6zM222.81 54.46h4.6v4.5h-4.6zM232.74 54.46h4.6v4.5h-4.6zM242.66 54.46h4.6v4.5h-4.6zM252.59 54.46h4.6v4.5h-4.6zM262.51 54.46h4.6v4.5h-4.6zM272.44 54.46h4.6v4.5h-4.6zM83.86 64.64h4.6v4.5h-4.6zM93.79 64.64h4.6v4.5h-4.6zM103.71 64.64h4.6v4.5h-4.6zM113.64 64.64h4.6v4.5h-4.6zM123.56 64.64h4.6v4.5h-4.6zM133.49 64.64h4.6v4.5h-4.6zM143.41 64.64h4.6v4.5h-4.6zM153.34 64.64h4.6v4.5h-4.6zM163.26 64.64h4.6v4.5h-4.6zM173.19 64.64h4.6v4.5h-4.6zM183.11 64.64h4.6v4.5h-4.6zM193.04 64.64h4.6v4.5h-4.6zM202.96 64.64h4.6v4.5h-4.6zM212.89 64.64h4.6v4.5h-4.6zM222.81 64.64h4.6v4.5h-4.6zM232.74 64.64h4.6v4.5h-4.6zM242.66 64.64h4.6v4.5h-4.6zM252.59 64.64h4.6v4.5h-4.6zM262.51 64.64h4.6v4.5h-4.6zM272.44 64.64h4.6v4.5h-4.6zM73.94 74.82h4.6v4.5h-4.6zM83.86 74.82h4.6v4.5h-4.6zM93.79 74.82h4.6v4.5h-4.6zM103.71 74.82h4.6v4.5h-4.6zM113.64 74.82h4.6v4.5h-4.6zM123.56 74.82h4.6v4.5h-4.6zM133.49 74.82h4.6v4.5h-4.6zM143.41 74.82h4.6v4.5h-4.6zM173.19 74.82h4.6v4.5h-4.6zM242.66 74.82h4.6v4.5h-4.6zM262.51 74.82h4.6v4.5h-4.6zM282.36 74.82h4.6v4.5h-4.6zM64.01 85h4.6v4.5h-4.6zM73.94 85h4.6v4.5h-4.6zM83.86 85h4.6v4.5h-4.6zM93.79 85h4.6v4.5h-4.6zM103.71 85h4.6v4.5h-4.6zM113.64 85h4.6v4.5h-4.6zM123.56 85h4.6v4.5h-4.6zM133.49 85h4.6v4.5h-4.6zM143.41 85h4.6v4.5h-4.6zM153.34 85h4.6v4.5h-4.6zM163.26 85h4.6v4.5h-4.6zM173.19 85h4.6v4.5h-4.6zM183.11 85h4.6v4.5h-4.6zM193.04 85h4.6v4.5h-4.6zM202.96 85h4.6v4.5h-4.6zM212.89 85h4.6v4.5h-4.6zM222.81 85h4.6v4.5h-4.6zM242.66 85h4.6v4.5h-4.6zM252.59 85h4.6v4.5h-4.6zM262.51 85h4.6v4.5h-4.6zM272.44 85h4.6v4.5h-4.6zM282.36 85h4.6v4.5h-4.6zM292.29 85h4.6v4.5h-4.6zM73.94 95.18h4.6v4.5h-4.6zM83.86 95.18h4.6v4.5h-4.6zM93.79 95.18h4.6v4.5h-4.6zM103.71 95.18h4.6v4.5h-4.6zM113.64 95.18h4.6v4.5h-4.6zM123.56 95.18h4.6v4.5h-4.6zM133.49 95.18h4.6v4.5h-4.6zM143.41 95.18h4.6v4.5h-4.6zM153.34 95.18h4.6v4.5h-4.6zM163.26 95.18h4.6v4.5h-4.6zM173.19 95.18h4.6v4.5h-4.6zM193.04 95.18h4.6v4.5h-4.6zM202.96 95.18h4.6v4.5h-4.6zM212.89 95.18h4.6v4.5h-4.6zM222.81 95.18h4.6v4.5h-4.6zM232.74 95.18h4.6v4.5h-4.6zM242.66 95.18h4.6v4.5h-4.6zM252.59 95.18h4.6v4.5h-4.6zM262.51 95.18h4.6v4.5h-4.6zM272.44 95.18h4.6v4.5h-4.6zM282.36 95.18h4.6v4.5h-4.6zM292.29 95.18h4.6v4.5h-4.6zM73.94 105.36h4.6v4.5h-4.6zM83.86 105.36h4.6v4.5h-4.6zM93.79 105.36h4.6v4.5h-4.6zM103.71 105.36h4.6v4.5h-4.6zM113.64 105.36h4.6v4.5h-4.6zM123.56 105.36h4.6v4.5h-4.6zM133.49 105.36h4.6v4.5h-4.6zM143.41 105.36h4.6v4.5h-4.6zM153.34 105.36h4.6v4.5h-4.6zM163.26 105.36h4.6v4.5h-4.6zM173.19 105.36h4.6v4.5h-4.6zM193.04 105.36h4.6v4.5h-4.6zM202.96 105.36h4.6v4.5h-4.6zM212.89 105.36h4.6v4.5h-4.6zM222.81 105.36h4.6v4.5h-4.6zM232.74 105.36h4.6v4.5h-4.6zM242.66 105.36h4.6v4.5h-4.6zM252.59 105.36h4.6v4.5h-4.6zM262.51 105.36h4.6v4.5h-4.6zM272.44 105.36h4.6v4.5h-4.6zM282.36 105.36h4.6v4.5h-4.6zM292.29 105.36h4.6v4.5h-4.6zM302.21 105.36h4.6v4.5h-4.6zM64.01 115.54h4.6v4.5h-4.6zM73.94 115.54h4.6v4.5h-4.6zM83.86 115.54h4.6v4.5h-4.6zM93.79 115.54h4.6v4.5h-4.6zM103.71 115.54h4.6v4.5h-4.6zM113.64 115.54h4.6v4.5h-4.6zM123.56 115.54h4.6v4.5h-4.6zM133.49 115.54h4.6v4.5h-4.6zM143.41 115.54h4.6v4.5h-4.6zM153.34 115.54h4.6v4.5h-4.6zM163.26 115.54h4.6v4.5h-4.6zM173.19 115.54h4.6v4.5h-4.6zM183.11 115.54h4.6v4.5h-4.6zM193.04 115.54h4.6v4.5h-4.6zM212.89 115.54h4.6v4.5h-4.6zM222.81 115.54h4.6v4.5h-4.6zM232.74 115.54h4.6v4.5h-4.6zM242.66 115.54h4.6v4.5h-4.6zM252.59 115.54h4.6v4.5h-4.6zM262.51 115.54h4.6v4.5h-4.6zM272.44 115.54h4.6v4.5h-4.6zM282.36 115.54h4.6v4.5h-4.6zM292.29 115.54h4.6v4.5h-4.6zM302.21 115.54h4.6v4.5h-4.6zM54.09 125.72h4.6v4.5h-4.6zM64.01 125.72h4.6v4.5h-4.6zM73.94 125.72h4.6v4.5h-4.6zM83.86 125.72h4.6v4.5h-4.6zM93.79 125.72h4.6v4.5h-4.6zM103.71 125.72h4.6v4.5h-4.6zM113.64 125.72h4.6v4.5h-4.6zM123.56 125.72h4.6v4.5h-4.6zM133.49 125.72h4.6v4.5h-4.6zM143.41 125.72h4.6v4.5h-4.6zM153.34 125.72h4.6v4.5h-4.6zM163.26 125.72h4.6v4.5h-4.6zM173.19 125.72h4.6v4.5h-4.6zM183.11 125.72h4.6v4.5h-4.6zM193.04 125.72h4.6v4.5h-4.6zM202.96 125.72h4.6v4.5h-4.6zM212.89 125.72h4.6v4.5h-4.6zM222.81 125.72h4.6v4.5h-4.6zM232.74 125.72h4.6v4.5h-4.6zM242.66 125.72h4.6v4.5h-4.6zM252.59 125.72h4.6v4.5h-4.6zM262.51 125.72h4.6v4.5h-4.6zM272.44 125.72h4.6v4.5h-4.6zM282.36 125.72h4.6v4.5h-4.6zM292.29 125.72h4.6v4.5h-4.6zM302.21 125.72h4.6v4.5h-4.6zM54.09 135.9h4.6v4.5h-4.6zM64.01 135.9h4.6v4.5h-4.6zM73.94 135.9h4.6v4.5h-4.6zM83.86 135.9h4.6v4.5h-4.6zM93.79 135.9h4.6v4.5h-4.6zM103.71 135.9h4.6v4.5h-4.6zM113.64 135.9h4.6v4.5h-4.6zM123.56 135.9h4.6v4.5h-4.6zM133.49 135.9h4.6v4.5h-4.6zM143.41 135.9h4.6v4.5h-4.6zM153.34 135.9h4.6v4.5h-4.6zM163.26 135.9h4.6v4.5h-4.6zM173.19 135.9h4.6v4.5h-4.6zM183.11 135.9h4.6v4.5h-4.6zM193.04 135.9h4.6v4.5h-4.6zM202.96 135.9h4.6v4.5h-4.6zM212.89 135.9h4.6v4.5h-4.6zM222.81 135.9h4.6v4.5h-4.6zM232.74 135.9h4.6v4.5h-4.6zM252.59 135.9h4.6v4.5h-4.6zM262.51 135.9h4.6v4.5h-4.6zM272.44 135.9h4.6v4.5h-4.6zM282.36 135.9h4.6v4.5h-4.6zM292.29 135.9h4.6v4.5h-4.6zM302.21 135.9h4.6v4.5h-4.6zM54.09 146.08h4.6v4.5h-4.6zM103.71 146.08h4.6v4.5h-4.6zM113.64 146.08h4.6v4.5h-4.6zM123.56 146.08h4.6v4.5h-4.6zM133.49 146.08h4.6v4.5h-4.6zM143.41 146.08h4.6v4.5h-4.6zM153.34 146.08h4.6v4.5h-4.6zM163.26 146.08h4.6v4.5h-4.6zM173.19 146.08h4.6v4.5h-4.6zM202.96 146.08h4.6v4.5h-4.6zM212.89 146.08h4.6v4.5h-4.6zM222.81 146.08h4.6v4.5h-4.6zM232.74 146.08h4.6v4.5h-4.6zM242.66 146.08h4.6v4.5h-4.6zM252.59 146.08h4.6v4.5h-4.6zM262.51 146.08h4.6v4.5h-4.6zM272.44 146.08h4.6v4.5h-4.6zM282.36 146.08h4.6v4.5h-4.6zM292.29 146.08h4.6v4.5h-4.6zM302.21 146.08h4.6v4.5h-4.6zM54.09 156.26h4.6v4.5h-4.6zM103.71 156.26h4.6v4.5h-4.6zM113.64 156.26h4.6v4.5h-4.6zM123.56 156.26h4.6v4.5h-4.6zM133.49 156.26h4.6v4.5h-4.6zM143.41 156.26h4.6v4.5h-4.6zM153.34 156.26h4.6v4.5h-4.6zM163.26 156.26h4.6v4.5h-4.6zM173.19 156.26h4.6v4.5h-4.6zM193.04 156.26h4.6v4.5h-4.6zM202.96 156.26h4.6v4.5h-4.6zM212.89 156.26h4.6v4.5h-4.6zM222.81 156.26h4.6v4.5h-4.6zM232.74 156.26h4.6v4.5h-4.6zM242.66 156.26h4.6v4.5h-4.6zM252.59 156.26h4.6v4.5h-4.6zM262.51 156.26h4.6v4.5h-4.6zM272.44 156.26h4.6v4.5h-4.6zM282.36 156.26h4.6v4.5h-4.6zM292.29 156.26h4.6v4.5h-4.6zM302.21 156.26h4.6v4.5h-4.6zM54.09 166.44h4.6v4.5h-4.6zM64.01 166.44h4.6v4.5h-4.6zM73.94 166.44h4.6v4.5h-4.6zM83.86 166.44h4.6v4.5h-4.6zM93.79 166.44h4.6v4.5h-4.6zM103.71 166.44h4.6v4.5h-4.6zM113.64 166.44h4.6v4.5h-4.6zM123.56 166.44h4.6v4.5h-4.6zM133.49 166.44h4.6v4.5h-4.6zM143.41 166.44h4.6v4.5h-4.6zM153.34 166.44h4.6v4.5h-4.6zM163.26 166.44h4.6v4.5h-4.6zM173.19 166.44h4.6v4.5h-4.6zM193.04 166.44h4.6v4.5h-4.6zM212.89 166.44h4.6v4.5h-4.6zM222.81 166.44h4.6v4.5h-4.6zM232.74 166.44h4.6v4.5h-4.6zM242.66 166.44h4.6v4.5h-4.6zM252.59 166.44h4.6v4.5h-4.6zM262.51 166.44h4.6v4.5h-4.6zM272.44 166.44h4.6v4.5h-4.6zM282.36 166.44h4.6v4.5h-4.6zM292.29 166.44h4.6v4.5h-4.6zM302.21 166.44h4.6v4.5h-4.6zM54.09 176.62h4.6v4.5h-4.6zM64.01 176.62h4.6v4.5h-4.6zM73.94 176.62h4.6v4.5h-4.6zM83.86 176.62h4.6v4.5h-4.6zM93.79 176.62h4.6v4.5h-4.6zM103.71 176.62h4.6v4.5h-4.6zM113.64 176.62h4.6v4.5h-4.6zM123.56 176.62h4.6v4.5h-4.6zM133.49 176.62h4.6v4.5h-4.6zM143.41 176.62h4.6v4.5h-4.6zM153.34 176.62h4.6v4.5h-4.6zM163.26 176.62h4.6v4.5h-4.6zM173.19 176.62h4.6v4.5h-4.6zM183.11 176.62h4.6v4.5h-4.6zM193.04 176.62h4.6v4.5h-4.6zM212.89 176.62h4.6v4.5h-4.6zM222.81 176.62h4.6v4.5h-4.6zM232.74 176.62h4.6v4.5h-4.6zM242.66 176.62h4.6v4.5h-4.6zM252.59 176.62h4.6v4.5h-4.6zM262.51 176.62h4.6v4.5h-4.6zM272.44 176.62h4.6v4.5h-4.6zM282.36 176.62h4.6v4.5h-4.6zM292.29 176.62h4.6v4.5h-4.6zM302.21 176.62h4.6v4.5h-4.6zM64.01 186.8h4.6v4.5h-4.6zM73.94 186.8h4.6v4.5h-4.6zM93.79 186.8h4.6v4.5h-4.6zM103.71 186.8h4.6v4.5h-4.6zM113.64 186.8h4.6v4.5h-4.6zM123.56 186.8h4.6v4.5h-4.6zM133.49 186.8h4.6v4.5h-4.6zM143.41 186.8h4.6v4.5h-4.6zM153.34 186.8h4.6v4.5h-4.6zM163.26 186.8h4.6v4.5h-4.6zM173.19 186.8h4.6v4.5h-4.6zM193.04 186.8h4.6v4.5h-4.6zM202.96 186.8h4.6v4.5h-4.6zM212.89 186.8h4.6v4.5h-4.6zM222.81 186.8h4.6v4.5h-4.6zM232.74 186.8h4.6v4.5h-4.6zM242.66 186.8h4.6v4.5h-4.6zM252.59 186.8h4.6v4.5h-4.6zM262.51 186.8h4.6v4.5h-4.6zM272.44 186.8h4.6v4.5h-4.6zM282.36 186.8h4.6v4.5h-4.6zM292.29 186.8h4.6v4.5h-4.6zM302.21 186.8h4.6v4.5h-4.6zM64.01 196.98h4.6v4.5h-4.6zM73.94 196.98h4.6v4.5h-4.6zM83.86 196.98h4.6v4.5h-4.6zM93.79 196.98h4.6v4.5h-4.6zM103.71 196.98h4.6v4.5h-4.6zM113.64 196.98h4.6v4.5h-4.6zM123.56 196.98h4.6v4.5h-4.6zM133.49 196.98h4.6v4.5h-4.6zM143.41 196.98h4.6v4.5h-4.6zM153.34 196.98h4.6v4.5h-4.6zM163.26 196.98h4.6v4.5h-4.6zM173.19 196.98h4.6v4.5h-4.6zM183.11 196.98h4.6v4.5h-4.6zM193.04 196.98h4.6v4.5h-4.6zM202.96 196.98h4.6v4.5h-4.6zM212.89 196.98h4.6v4.5h-4.6zM222.81 196.98h4.6v4.5h-4.6zM232.74 196.98h4.6v4.5h-4.6zM242.66 196.98h4.6v4.5h-4.6zM252.59 196.98h4.6v4.5h-4.6zM262.51 196.98h4.6v4.5h-4.6zM272.44 196.98h4.6v4.5h-4.6zM282.36 196.98h4.6v4.5h-4.6zM292.29 196.98h4.6v4.5h-4.6zM64.01 207.16h4.6v4.5h-4.6zM73.94 207.16h4.6v4.5h-4.6zM83.86 207.16h4.6v4.5h-4.6zM113.64 207.16h4.6v4.5h-4.6zM123.56 207.16h4.6v4.5h-4.6zM133.49 207.16h4.6v4.5h-4.6zM143.41 207.16h4.6v4.5h-4.6zM183.11 207.16h4.6v4.5h-4.6zM202.96 207.16h4.6v4.5h-4.6zM212.89 207.16h4.6v4.5h-4.6zM222.81 207.16h4.6v4.5h-4.6zM232.74 207.16h4.6v4.5h-4.6zM242.66 207.16h4.6v4.5h-4.6zM252.59 207.16h4.6v4.5h-4.6zM262.51 207.16h4.6v4.5h-4.6zM272.44 207.16h4.6v4.5h-4.6zM282.36 207.16h4.6v4.5h-4.6zM292.29 207.16h4.6v4.5h-4.6zM73.94 217.34h4.6v4.5h-4.6zM83.86 217.34h4.6v4.5h-4.6zM93.79 217.34h4.6v4.5h-4.6zM103.71 217.34h4.6v4.5h-4.6zM113.64 217.34h4.6v4.5h-4.6zM123.56 217.34h4.6v4.5h-4.6zM133.49 217.34h4.6v4.5h-4.6zM153.34 217.34h4.6v4.5h-4.6zM173.19 217.34h4.6v4.5h-4.6zM202.96 217.34h4.6v4.5h-4.6zM212.89 217.34h4.6v4.5h-4.6zM222.81 217.34h4.6v4.5h-4.6zM242.66 217.34h4.6v4.5h-4.6zM252.59 217.34h4.6v4.5h-4.6zM262.51 217.34h4.6v4.5h-4.6zM272.44 217.34h4.6v4.5h-4.6zM282.36 217.34h4.6v4.5h-4.6zM83.86 227.52h4.6v4.5h-4.6zM93.79 227.52h4.6v4.5h-4.6zM113.64 227.52h4.6v4.5h-4.6zM123.56 227.52h4.6v4.5h-4.6zM133.49 227.52h4.6v4.5h-4.6zM143.41 227.52h4.6v4.5h-4.6zM153.34 227.52h4.6v4.5h-4.6zM173.19 227.52h4.6v4.5h-4.6zM193.04 227.52h4.6v4.5h-4.6zM212.89 227.52h4.6v4.5h-4.6zM222.81 227.52h4.6v4.5h-4.6zM232.74 227.52h4.6v4.5h-4.6zM242.66 227.52h4.6v4.5h-4.6zM252.59 227.52h4.6v4.5h-4.6zM262.51 227.52h4.6v4.5h-4.6zM272.44 227.52h4.6v4.5h-4.6zM93.79 237.7h4.6v4.5h-4.6zM103.71 237.7h4.6v4.5h-4.6zM113.64 237.7h4.6v4.5h-4.6zM123.56 237.7h4.6v4.5h-4.6zM143.41 237.7h4.6v4.5h-4.6zM153.34 237.7h4.6v4.5h-4.6zM163.26 237.7h4.6v4.5h-4.6zM173.19 237.7h4.6v4.5h-4.6zM183.11 237.7h4.6v4.5h-4.6zM193.04 237.7h4.6v4.5h-4.6zM202.96 237.7h4.6v4.5h-4.6zM212.89 237.7h4.6v4.5h-4.6zM222.81 237.7h4.6v4.5h-4.6zM232.74 237.7h4.6v4.5h-4.6zM242.66 237.7h4.6v4.5h-4.6zM252.59 237.7h4.6v4.5h-4.6zM262.51 237.7h4.6v4.5h-4.6zM103.71 247.88h4.6v4.5h-4.6zM113.64 247.88h4.6v4.5h-4.6zM123.56 247.88h4.6v4.5h-4.6zM133.49 247.88h4.6v4.5h-4.6zM143.41 247.88h4.6v4.5h-4.6zM153.34 247.88h4.6v4.5h-4.6zM163.26 247.88h4.6v4.5h-4.6zM173.19 247.88h4.6v4.5h-4.6zM193.04 247.88h4.6v4.5h-4.6zM202.96 247.88h4.6v4.5h-4.6zM212.89 247.88h4.6v4.5h-4.6zM222.81 247.88h4.6v4.5h-4.6zM232.74 247.88h4.6v4.5h-4.6zM242.66 247.88h4.6v4.5h-4.6zM113.64 258.06h4.6v4.5h-4.6zM123.56 258.06h4.6v4.5h-4.6zM133.49 258.06h4.6v4.5h-4.6zM143.41 258.06h4.6v4.5h-4.6zM153.34 258.06h4.6v4.5h-4.6zM173.19 258.06h4.6v4.5h-4.6zM193.04 258.06h4.6v4.5h-4.6zM202.96 258.06h4.6v4.5h-4.6zM212.89 258.06h4.6v4.5h-4.6zM222.81 258.06h4.6v4.5h-4.6zM232.74 258.06h4.6v4.5h-4.6zM133.49 268.24h4.6v4.5h-4.6zM143.41 268.24h4.6v4.5h-4.6zM153.34 268.24h4.6v4.5h-4.6zM163.26 268.24h4.6v4.5h-4.6zM173.19 268.24h4.6v4.5h-4.6z" fill="#00fa00"/><path d="M153.34 13.74h4.6v4.5h-4.6zM183.11 13.74h4.6v4.5h-4.6zM202.96 13.74h4.6v4.5h-4.6zM123.56 23.92h4.6v4.5h-4.6zM133.49 23.92h4.6v4.5h-4.6zM143.41 23.92h4.6v4.5h-4.6zM153.34 23.92h4.6v4.5h-4.6zM163.26 23.92h4.6v4.5h-4.6zM113.64 34.1h4.6v4.5h-4.6zM123.56 34.1h4.6v4.5h-4.6zM133.49 34.1h4.6v4.5h-4.6zM183.11 34.1h4.6v4.5h-4.6zM242.66 34.1h4.6v4.5h-4.6zM252.59 34.1h4.6v4.5h-4.6zM93.79 44.28h4.6v4.5h-4.6zM262.51 44.28h4.6v4.5h-4.6zM83.86 54.46h4.6v4.5h-4.6zM133.49 54.46h4.6v4.5h-4.6zM173.19 54.46h4.6v4.5h-4.6zM73.94 64.64h4.6v4.5h-4.6zM282.36 64.64h4.6v4.5h-4.6zM153.34 74.82h4.6v4.5h-4.6zM163.26 74.82h4.6v4.5h-4.6zM183.11 74.82h4.6v4.5h-4.6zM193.04 74.82h4.6v4.5h-4.6zM202.96 74.82h4.6v4.5h-4.6zM212.89 74.82h4.6v4.5h-4.6zM222.81 74.82h4.6v4.5h-4.6zM232.74 74.82h4.6v4.5h-4.6zM252.59 74.82h4.6v4.5h-4.6zM272.44 74.82h4.6v4.5h-4.6zM292.29 74.82h4.6v4.5h-4.6zM232.74 85h4.6v4.5h-4.6zM64.01 95.18h4.6v4.5h-4.6zM183.11 95.18h4.6v4.5h-4.6zM302.21 95.18h4.6v4.5h-4.6zM54.09 105.36h4.6v4.5h-4.6zM64.01 105.36h4.6v4.5h-4.6zM183.11 105.36h4.6v4.5h-4.6zM54.09 115.54h4.6v4.5h-4.6zM202.96 115.54h4.6v4.5h-4.6zM242.66 135.9h4.6v4.5h-4.6zM64.01 146.08h4.6v4.5h-4.6zM73.94 146.08h4.6v4.5h-4.6zM83.86 146.08h4.6v4.5h-4.6zM93.79 146.08h4.6v4.5h-4.6zM183.11 146.08h4.6v4.5h-4.6zM193.04 146.08h4.6v4.5h-4.6zM64.01 156.26h4.6v4.5h-4.6zM73.94 156.26h4.6v4.5h-4.6zM83.86 156.26h4.6v4.5h-4.6zM93.79 156.26h4.6v4.5h-4.6zM183.11 156.26h4.6v4.5h-4.6zM183.11 166.44h4.6v4.5h-4.6zM202.96 166.44h4.6v4.5h-4.6zM202.96 176.62h4.6v4.5h-4.6zM54.09 186.8h4.6v4.5h-4.6zM83.86 186.8h4.6v4.5h-4.6zM183.11 186.8h4.6v4.5h-4.6zM302.21 196.98h4.6v4.5h-4.6zM93.79 207.16h4.6v4.5h-4.6zM103.71 207.16h4.6v4.5h-4.6zM153.34 207.16h4.6v4.5h-4.6zM163.26 207.16h4.6v4.5h-4.6zM173.19 207.16h4.6v4.5h-4.6zM193.04 207.16h4.6v4.5h-4.6zM143.41 217.34h4.6v4.5h-4.6zM163.26 217.34h4.6v4.5h-4.6zM183.11 217.34h4.6v4.5h-4.6zM193.04 217.34h4.6v4.5h-4.6zM232.74 217.34h4.6v4.5h-4.6zM292.29 217.34h4.6v4.5h-4.6zM73.94 227.52h4.6v4.5h-4.6zM103.71 227.52h4.6v4.5h-4.6zM163.26 227.52h4.6v4.5h-4.6zM183.11 227.52h4.6v4.5h-4.6zM202.96 227.52h4.6v4.5h-4.6zM282.36 227.52h4.6v4.5h-4.6zM83.86 237.7h4.6v4.5h-4.6zM133.49 237.7h4.6v4.5h-4.6zM272.44 237.7h4.6v4.5h-4.6zM93.79 247.88h4.6v4.5h-4.6zM183.11 247.88h4.6v4.5h-4.6zM252.59 247.88h4.6v4.5h-4.6zM262.51 247.88h4.6v4.5h-4.6zM103.71 258.06h4.6v4.5h-4.6zM163.26 258.06h4.6v4.5h-4.6zM183.11 258.06h4.6v4.5h-4.6zM242.66 258.06h4.6v4.5h-4.6zM252.59 258.06h4.6v4.5h-4.6zM123.56 268.24h4.6v4.5h-4.6zM183.11 268.24h4.6v4.5h-4.6zM193.04 268.24h4.6v4.5h-4.6zM202.96 268.24h4.6v4.5h-4.6zM212.89 268.24h4.6v4.5h-4.6zM222.81 268.24h4.6v4.5h-4.6zM232.74 268.24h4.6v4.5h-4.6z" fill="#f60000"/><path d="M71.28 71.98L71.28 61.8M71.28 61.8L81.2 61.8M81.2 61.8L81.2 51.62M81.2 51.62L91.12 51.62M91.12 51.62L91.12 41.44M91.12 41.44L101.05 41.44M110.98 41.44L110.98 31.26M110.98 41.44L120.9 41.44M120.9 41.44L130.82 41.44M120.9 41.44L120.9 31.26M120.9 31.26L120.9 21.08M130.82 41.44L130.82 31.26M130.82 31.26L130.82 21.08M120.9 21.08L130.82 21.08M130.82 61.8L130.82 51.62M140.75 31.26L140.75 21.08M150.68 31.26L150.68 21.08M150.68 21.08L150.68 10.9M150.68 10.9L160.6 10.9M160.6 31.26L170.53 31.26M180.45 21.08L180.45 10.9M180.45 21.08L190.38 21.08M180.45 41.44L180.45 31.26M180.45 31.26L190.38 31.26M180.45 41.44L190.38 41.44M200.3 10.9L210.23 10.9M210.23 21.08L210.23 10.9M180.45 61.8L180.45 51.62M170.53 61.8L180.45 61.8M150.68 82.16L150.68 71.98M160.6 82.16L160.6 71.98M170.53 82.16L170.53 71.98M180.45 82.16L180.45 71.98M190.38 82.16L190.38 71.98M200.3 82.16L200.3 71.98M210.23 82.16L210.23 71.98M220.15 82.16L220.15 71.98M230.08 82.16L230.08 71.98M240 82.16L240 71.98M249.93 82.16L249.93 71.98M259.85 82.16L259.85 71.98M269.77 82.16L269.77 71.98M180.45 71.98L190.38 71.98M180.45 82.16L190.38 82.16M180.45 92.34L190.38 92.34M180.45 102.52L180.45 92.34M180.45 102.52L190.38 102.52M240 31.26L249.93 31.26M249.93 31.26L259.85 31.26M249.93 41.44L249.93 31.26M259.85 41.44L259.85 31.26M259.85 41.44L269.77 41.44M269.77 51.62L269.77 41.44M279.7 61.8L289.62 61.8M289.62 71.98L289.62 61.8M289.62 71.98L299.55 71.98M299.55 82.16L299.55 71.98M230.08 92.34L230.08 82.16M299.55 92.34L309.48 92.34M309.48 102.52L309.48 92.34M61.35 112.7L61.35 102.52M61.35 102.52L61.35 92.34M71.28 102.52L71.28 92.34M51.42 102.52L61.35 102.52M61.35 102.52L71.28 102.52M51.42 122.88L51.42 112.7M51.42 112.7L51.42 102.52M51.42 112.7L61.35 112.7M61.35 153.42L71.28 153.42M71.28 153.42L81.2 153.42M81.2 153.42L91.12 153.42M91.12 153.42L101.05 153.42M71.28 163.6L71.28 153.42M71.28 153.42L71.28 143.24M81.2 163.6L81.2 153.42M81.2 153.42L81.2 143.24M91.12 163.6L91.12 153.42M91.12 153.42L91.12 143.24M51.42 183.96L61.35 183.96M51.42 194.14L51.42 183.96M51.42 194.14L61.35 194.14M180.45 112.7L190.38 112.7M200.3 122.88L200.3 112.7M180.45 173.78L180.45 163.6M180.45 163.6L180.45 153.42M180.45 153.42L180.45 143.24M180.45 153.42L190.38 153.42M190.38 153.42L200.3 153.42M180.45 163.6L190.38 163.6M180.45 173.78L190.38 173.78M200.3 183.96L200.3 173.78M200.3 173.78L200.3 163.6M240 143.24L249.93 143.24M81.2 194.14L81.2 183.96M101.05 214.5L101.05 204.32M71.28 234.86L71.28 224.68M71.28 234.86L81.2 234.86M81.2 245.04L81.2 234.86M81.2 245.04L91.12 245.04M91.12 255.22L91.12 245.04M91.12 255.22L101.05 255.22M101.05 265.4L101.05 255.22M101.05 265.4L110.98 265.4M110.98 234.86L110.98 224.68M120.9 275.58L120.9 265.4M120.9 275.58L130.82 275.58M180.45 183.96L190.38 183.96M180.45 194.14L180.45 183.96M160.6 224.68L160.6 214.5M160.6 214.5L160.6 204.32M170.53 214.5L170.53 204.32M140.75 214.5L150.68 214.5M150.68 214.5L160.6 214.5M160.6 214.5L170.53 214.5M140.75 224.68L140.75 214.5M160.6 224.68L170.53 224.68M140.75 245.04L140.75 234.86M190.38 224.68L190.38 214.5M190.38 214.5L190.38 204.32M190.38 214.5L200.3 214.5M180.45 224.68L190.38 224.68M180.45 234.86L180.45 224.68M180.45 234.86L190.38 234.86M200.3 234.86L200.3 224.68M160.6 265.4L160.6 255.22M180.45 255.22L190.38 255.22M180.45 265.4L190.38 265.4M190.38 275.58L190.38 265.4M180.45 275.58L190.38 275.58M190.38 275.58L200.3 275.58M200.3 275.58L210.23 275.58M210.23 275.58L220.15 275.58M220.15 275.58L230.08 275.58M230.08 275.58L240 275.58M200.3 275.58L200.3 265.4M210.23 275.58L210.23 265.4M220.15 275.58L220.15 265.4M230.08 275.58L230.08 265.4M309.48 204.32L309.48 194.14M299.55 204.32L309.48 204.32M230.08 224.68L230.08 214.5M299.55 224.68L299.55 214.5M289.62 224.68L299.55 224.68M289.62 234.86L289.62 224.68M279.7 234.86L289.62 234.86M279.7 245.04L279.7 234.86M279.7 234.86L279.7 224.68M269.77 245.04L279.7 245.04M269.77 255.22L269.77 245.04M249.93 255.22L259.85 255.22M259.85 255.22L269.77 255.22M259.85 265.4L259.85 255.22M259.85 255.22L259.85 245.04M240 265.4L249.93 265.4M249.93 265.4L259.85 265.4" stroke="#ffff00" stroke-width="1.2" stroke-linecap="round" fill="none"/><path d="M71.28 71.98L71.28 70.76M71.28 64.85L71.28 63.02M71.28 63.02L71.28 61.8M71.28 61.8L72.47 61.8M78.22 61.8L80.01 61.8M80.01 61.8L81.2 61.8M81.2 61.8L81.2 60.58M81.2 52.84L81.2 51.62M81.2 51.62L82.39 51.62M82.39 51.62L84.18 51.62M88.15 51.62L89.93 51.62M91.12 41.44L92.32 41.44M98.07 41.44L99.86 41.44M99.86 41.44L101.05 41.44M110.98 41.44L110.98 40.22M110.98 32.48L110.98 31.26M110.98 41.44L112.17 41.44M119.71 41.44L120.9 41.44M120.9 41.44L122.09 41.44M129.63 41.44L130.82 41.44M120.9 41.44L120.9 40.22M120.9 40.22L120.9 38.39M120.9 38.39L120.9 34.31M120.9 30.04L120.9 28.21M120.9 22.3L120.9 21.08M130.82 41.44L130.82 40.22M130.82 40.22L130.82 38.39M130.82 34.31L130.82 32.48M130.82 32.48L130.82 31.26M130.82 30.04L130.82 28.21M130.82 24.13L130.82 22.3M130.82 22.3L130.82 21.08M120.9 21.08L122.09 21.08M123.88 21.08L127.85 21.08M130.82 61.8L130.82 60.58M130.82 52.84L130.82 51.62M140.75 31.26L140.75 30.04M140.75 22.3L140.75 21.08M150.68 31.26L150.68 30.04M150.68 22.3L150.68 21.08M150.68 21.08L150.68 19.86M150.68 10.9L151.87 10.9M159.41 10.9L160.6 10.9M160.6 31.26L161.79 31.26M180.45 21.08L180.45 19.86M180.45 12.12L180.45 10.9M180.45 21.08L181.64 21.08M189.18 21.08L190.38 21.08M180.45 32.48L180.45 31.26M180.45 31.26L181.64 31.26M189.18 31.26L190.38 31.26M180.45 41.44L181.64 41.44M189.18 41.44L190.38 41.44M200.3 10.9L201.49 10.9M209.03 10.9L210.23 10.9M210.23 21.08L210.23 19.86M210.23 12.12L210.23 10.9M180.45 52.84L180.45 51.62M170.53 61.8L171.72 61.8M179.26 61.8L180.45 61.8M150.68 82.16L150.68 80.94M150.68 73.2L150.68 71.98M160.6 82.16L160.6 80.94M160.6 73.2L160.6 71.98M170.53 82.16L170.53 80.94M170.53 73.2L170.53 71.98M180.45 73.2L180.45 71.98M190.38 82.16L190.38 80.94M190.38 73.2L190.38 71.98M200.3 82.16L200.3 80.94M210.23 82.16L210.23 80.94M210.23 73.2L210.23 71.98M220.15 82.16L220.15 80.94M220.15 73.2L220.15 71.98M230.08 82.16L230.08 80.94M240 82.16L240 80.94M240 73.2L240 71.98M249.93 73.2L249.93 71.98M259.85 82.16L259.85 80.94M269.77 82.16L269.77 80.94M269.77 73.2L269.77 71.98M189.18 71.98L190.38 71.98M180.45 82.16L181.64 82.16M189.18 82.16L190.38 82.16M180.45 92.34L181.64 92.34M180.45 102.52L180.45 101.3M180.45 93.56L180.45 92.34M180.45 102.52L181.64 102.52M189.18 102.52L190.38 102.52M240 31.26L241.19 31.26M248.73 31.26L249.93 31.26M249.93 31.26L251.12 31.26M251.12 31.26L252.9 31.26M258.66 31.26L259.85 31.26M249.93 41.44L249.93 40.22M249.93 34.31L249.93 32.48M259.85 41.44L259.85 40.22M259.85 32.48L259.85 31.26M259.85 41.44L261.04 41.44M268.58 41.44L269.77 41.44M269.77 51.62L269.77 50.4M269.77 42.66L269.77 41.44M279.7 61.8L280.89 61.8M288.43 61.8L289.62 61.8M289.62 71.98L289.62 70.76M289.62 68.93L289.62 64.85M289.62 63.02L289.62 61.8M289.62 71.98L290.82 71.98M290.82 71.98L292.6 71.98M298.36 71.98L299.55 71.98M299.55 82.16L299.55 80.94M299.55 79.11L299.55 75.03M299.55 73.2L299.55 71.98M230.08 83.38L230.08 82.16M299.55 92.34L300.74 92.34M300.74 92.34L302.53 92.34M308.28 92.34L309.48 92.34M309.48 102.52L309.48 101.3M309.48 93.56L309.48 92.34M61.35 112.7L61.35 111.48M61.35 109.65L61.35 105.57M61.35 103.74L61.35 102.52M61.35 95.39L61.35 93.56M71.28 95.39L71.28 93.56M71.28 93.56L71.28 92.34M51.42 102.52L52.62 102.52M52.62 102.52L54.4 102.52M60.16 102.52L61.35 102.52M61.35 102.52L62.54 102.52M68.3 102.52L70.08 102.52M70.08 102.52L71.28 102.52M51.42 122.88L51.42 121.66M51.42 121.66L51.42 119.83M51.42 112.7L51.42 111.48M51.42 111.48L51.42 109.65M51.42 103.74L51.42 102.52M51.42 112.7L52.62 112.7M61.35 153.42L62.54 153.42M70.08 153.42L71.28 153.42M71.28 153.42L72.47 153.42M80.01 153.42L81.2 153.42M81.2 153.42L82.39 153.42M89.93 153.42L91.12 153.42M99.86 153.42L101.05 153.42M71.28 163.6L71.28 162.38M71.28 154.64L71.28 153.42M71.28 153.42L71.28 152.2M71.28 144.46L71.28 143.24M81.2 163.6L81.2 162.38M81.2 154.64L81.2 153.42M81.2 153.42L81.2 152.2M81.2 144.46L81.2 143.24M91.12 163.6L91.12 162.38M91.12 153.42L91.12 152.2M91.12 144.46L91.12 143.24M51.42 183.96L52.62 183.96M58.37 183.96L60.16 183.96M60.16 183.96L61.35 183.96M51.42 194.14L51.42 192.92M51.42 185.18L51.42 183.96M51.42 194.14L52.62 194.14M54.4 194.14L58.37 194.14M60.16 194.14L61.35 194.14M180.45 112.7L181.64 112.7M189.18 112.7L190.38 112.7M200.3 122.88L200.3 121.66M200.3 113.92L200.3 112.7M180.45 164.82L180.45 163.6M180.45 163.6L180.45 162.38M180.45 154.64L180.45 153.42M180.45 153.42L180.45 152.2M180.45 144.46L180.45 143.24M180.45 153.42L181.64 153.42M189.18 153.42L190.38 153.42M190.38 153.42L191.57 153.42M199.11 153.42L200.3 153.42M180.45 163.6L181.64 163.6M189.18 163.6L190.38 163.6M180.45 173.78L181.64 173.78M189.18 173.78L190.38 173.78M200.3 175L200.3 173.78M200.3 173.78L200.3 172.56M200.3 164.82L200.3 163.6M240 143.24L241.19 143.24M248.73 143.24L249.93 143.24M81.2 194.14L81.2 192.92M81.2 185.18L81.2 183.96M101.05 214.5L101.05 213.28M101.05 205.54L101.05 204.32M71.28 234.86L71.28 233.64M71.28 233.64L71.28 231.81M71.28 231.81L71.28 227.73M71.28 227.73L71.28 225.9M71.28 225.9L71.28 224.68M71.28 234.86L72.47 234.86M80.01 234.86L81.2 234.86M81.2 245.04L81.2 243.82M81.2 243.82L81.2 241.99M81.2 241.99L81.2 237.91M81.2 236.08L81.2 234.86M81.2 245.04L82.39 245.04M82.39 245.04L84.18 245.04M88.15 245.04L89.93 245.04M89.93 245.04L91.12 245.04M91.12 255.22L91.12 254M91.12 252.17L91.12 248.09M91.12 246.26L91.12 245.04M91.12 255.22L92.32 255.22M99.86 255.22L101.05 255.22M101.05 265.4L101.05 264.18M101.05 264.18L101.05 262.35M101.05 262.35L101.05 258.27M101.05 256.44L101.05 255.22M101.05 265.4L102.24 265.4M104.03 265.4L108 265.4M109.78 265.4L110.98 265.4M110.98 234.86L110.98 233.64M110.98 231.81L110.98 227.73M120.9 275.58L120.9 274.36M120.9 266.62L120.9 265.4M127.85 275.58L129.63 275.58M129.63 275.58L130.82 275.58M189.18 183.96L190.38 183.96M180.45 194.14L180.45 192.92M160.6 224.68L160.6 223.46M160.6 215.72L160.6 214.5M160.6 214.5L160.6 213.28M160.6 205.54L160.6 204.32M170.53 214.5L170.53 213.28M140.75 214.5L141.94 214.5M149.48 214.5L150.68 214.5M150.68 214.5L151.87 214.5M159.41 214.5L160.6 214.5M160.6 214.5L161.79 214.5M140.75 224.68L140.75 223.46M140.75 215.72L140.75 214.5M160.6 224.68L161.79 224.68M140.75 245.04L140.75 243.82M140.75 236.08L140.75 234.86M190.38 224.68L190.38 223.46M190.38 215.72L190.38 214.5M190.38 214.5L190.38 213.28M190.38 205.54L190.38 204.32M190.38 214.5L191.57 214.5M199.11 214.5L200.3 214.5M180.45 224.68L181.64 224.68M189.18 224.68L190.38 224.68M180.45 234.86L180.45 233.64M180.45 234.86L181.64 234.86M189.18 234.86L190.38 234.86M200.3 234.86L200.3 233.64M160.6 265.4L160.6 264.18M160.6 256.44L160.6 255.22M180.45 255.22L181.64 255.22M189.18 255.22L190.38 255.22M189.18 265.4L190.38 265.4M190.38 275.58L190.38 274.36M190.38 272.53L190.38 268.45M190.38 266.62L190.38 265.4M180.45 275.58L181.64 275.58M190.38 275.58L191.57 275.58M209.03 275.58L210.23 275.58M210.23 275.58L211.42 275.58M213.2 275.58L217.17 275.58M218.96 275.58L220.15 275.58M220.15 275.58L221.34 275.58M228.88 275.58L230.08 275.58M238.81 275.58L240 275.58M200.3 275.58L200.3 274.36M200.3 266.62L200.3 265.4M210.23 275.58L210.23 274.36M210.23 266.62L210.23 265.4M220.15 275.58L220.15 274.36M230.08 275.58L230.08 274.36M230.08 274.36L230.08 272.53M230.08 266.62L230.08 265.4M309.48 204.32L309.48 203.1M309.48 197.19L309.48 195.36M309.48 195.36L309.48 194.14M299.55 204.32L300.74 204.32M230.08 224.68L230.08 223.46M230.08 215.72L230.08 214.5M299.55 224.68L299.55 223.46M299.55 221.63L299.55 217.55M299.55 215.72L299.55 214.5M289.62 224.68L290.82 224.68M298.36 224.68L299.55 224.68M289.62 231.81L289.62 227.73M289.62 227.73L289.62 225.9M289.62 225.9L289.62 224.68M279.7 234.86L280.89 234.86M280.89 234.86L282.68 234.86M288.43 234.86L289.62 234.86M279.7 237.91L279.7 236.08M279.7 236.08L279.7 234.86M279.7 225.9L279.7 224.68M269.77 245.04L270.97 245.04M269.77 255.22L269.77 254M269.77 252.17L269.77 248.09M269.77 246.26L269.77 245.04M249.93 255.22L251.12 255.22M258.66 255.22L259.85 255.22M268.58 255.22L269.77 255.22M259.85 265.4L259.85 264.18M259.85 264.18L259.85 262.35M259.85 256.44L259.85 255.22M259.85 255.22L259.85 254M259.85 252.17L259.85 248.09M259.85 248.09L259.85 246.26M240 265.4L241.19 265.4M248.73 265.4L249.93 265.4M258.66 265.4L259.85 265.4" stroke="#ffff00" stroke-width="1.2" stroke-linecap="butt" fill="none"/><path d="M71.28 70.76L71.28 68.93M71.28 68.93L71.28 64.85M72.47 61.8L74.25 61.8M74.25 61.8L78.22 61.8M81.2 58.75L81.2 54.67M81.2 54.67L81.2 52.84M91.12 50.4L91.12 48.57M91.12 48.57L91.12 44.49M91.12 44.49L91.12 42.66M92.32 41.44L94.1 41.44M94.1 41.44L98.07 41.44M110.98 40.22L110.98 38.39M110.98 38.39L110.98 34.31M110.98 34.31L110.98 32.48M120.9 34.31L120.9 32.48M120.9 28.21L120.9 24.13M120.9 24.13L120.9 22.3M130.82 38.39L130.82 34.31M130.82 28.21L130.82 24.13M280.89 61.8L282.68 61.8M282.68 61.8L286.65 61.8M286.65 61.8L288.43 61.8M302.53 92.34L306.5 92.34M306.5 92.34L308.28 92.34M309.48 99.47L309.48 95.39M61.35 111.48L61.35 109.65M61.35 101.3L61.35 99.47M61.35 99.47L61.35 95.39M71.28 101.3L71.28 99.47M54.4 102.52L58.37 102.52M58.37 102.52L60.16 102.52M62.54 102.52L64.33 102.52M64.33 102.52L68.3 102.52M51.42 119.83L51.42 115.75M51.42 109.65L51.42 105.57M51.42 105.57L51.42 103.74M54.4 112.7L58.37 112.7M58.37 112.7L60.16 112.7M51.42 192.92L51.42 191.09M51.42 191.09L51.42 187.01M51.42 187.01L51.42 185.18M52.62 194.14L54.4 194.14M58.37 194.14L60.16 194.14M241.19 143.24L242.98 143.24M242.98 143.24L246.95 143.24M72.47 234.86L74.25 234.86M74.25 234.86L78.22 234.86M78.22 234.86L80.01 234.86M84.18 245.04L88.15 245.04M91.12 254L91.12 252.17M91.12 248.09L91.12 246.26M92.32 255.22L94.1 255.22M94.1 255.22L98.07 255.22M98.07 255.22L99.86 255.22M101.05 258.27L101.05 256.44M102.24 265.4L104.03 265.4M120.9 274.36L120.9 272.53M120.9 268.45L120.9 266.62M122.09 275.58L123.88 275.58M123.88 275.58L127.85 275.58M190.38 274.36L190.38 272.53M183.43 275.58L187.4 275.58M191.57 275.58L193.35 275.58M197.32 275.58L199.11 275.58M217.17 275.58L218.96 275.58M221.34 275.58L223.13 275.58M200.3 272.53L200.3 268.45M220.15 268.45L220.15 266.62M230.08 268.45L230.08 266.62M309.48 201.27L309.48 197.19M300.74 204.32L302.53 204.32M306.5 204.32L308.28 204.32M299.55 217.55L299.55 215.72M292.6 224.68L296.57 224.68M296.57 224.68L298.36 224.68M289.62 233.64L289.62 231.81M286.65 234.86L288.43 234.86M279.7 243.82L279.7 241.99M279.7 241.99L279.7 237.91M272.75 245.04L276.72 245.04M276.72 245.04L278.51 245.04M269.77 254L269.77 252.17M269.77 248.09L269.77 246.26M252.9 255.22L256.87 255.22M256.87 255.22L258.66 255.22M262.83 255.22L266.8 255.22M259.85 262.35L259.85 258.27M259.85 254L259.85 252.17M241.19 265.4L242.98 265.4M246.95 265.4L248.73 265.4M252.9 265.4L256.87 265.4M256.87 265.4L258.66 265.4" stroke="#ff8000" stroke-width="1.2" stroke-linecap="butt" fill="none"/><path d="M81.2 60.58L81.2 58.75M112.17 41.44L113.95 41.44M123.88 41.44L127.85 41.44M127.85 41.44L129.63 41.44M140.75 30.04L140.75 28.21M140.75 28.21L140.75 24.13M150.68 28.21L150.68 24.13M150.68 24.13L150.68 22.3M150.68 19.86L150.68 18.03M150.68 18.03L150.68 13.95M150.68 13.95L150.68 12.12M157.62 10.9L159.41 10.9M163.58 31.26L167.55 31.26M167.55 31.26L169.33 31.26M180.45 18.03L180.45 13.95M181.64 21.08L183.43 21.08M183.43 21.08L187.4 21.08M183.43 41.44L187.4 41.44M187.4 41.44L189.18 41.44M201.49 10.9L203.28 10.9M203.28 10.9L207.25 10.9M207.25 10.9L209.03 10.9M210.23 19.86L210.23 18.03M210.23 18.03L210.23 13.95M210.23 13.95L210.23 12.12M180.45 60.58L180.45 58.75M180.45 54.67L180.45 52.84M173.5 61.8L177.47 61.8M150.68 80.94L150.68 79.11M150.68 79.11L150.68 75.03M150.68 75.03L150.68 73.2M160.6 79.11L160.6 75.03M160.6 75.03L160.6 73.2M170.53 80.94L170.53 79.11M170.53 79.11L170.53 75.03M180.45 80.94L180.45 79.11M180.45 79.11L180.45 75.03M180.45 75.03L180.45 73.2M190.38 80.94L190.38 79.11M190.38 79.11L190.38 75.03M190.38 75.03L190.38 73.2M210.23 80.94L210.23 79.11M210.23 79.11L210.23 75.03M210.23 75.03L210.23 73.2M220.15 80.94L220.15 79.11M220.15 79.11L220.15 75.03M230.08 75.03L230.08 73.2M240 80.94L240 79.11M240 79.11L240 75.03M240 75.03L240 73.2M249.93 80.94L249.93 79.11M249.93 75.03L249.93 73.2M259.85 80.94L259.85 79.11M259.85 79.11L259.85 75.03M259.85 75.03L259.85 73.2M269.77 80.94L269.77 79.11M269.77 79.11L269.77 75.03M183.43 71.98L187.4 71.98M187.4 71.98L189.18 71.98M183.43 82.16L187.4 82.16M187.4 92.34L189.18 92.34M180.45 99.47L180.45 95.39M309.48 95.39L309.48 93.56M62.54 153.42L64.33 153.42M68.3 153.42L70.08 153.42M72.47 153.42L74.25 153.42M74.25 153.42L78.22 153.42M88.15 153.42L89.93 153.42M92.32 153.42L94.1 153.42M94.1 153.42L98.07 153.42M71.28 162.38L71.28 160.55M71.28 160.55L71.28 156.47M71.28 156.47L71.28 154.64M71.28 152.2L71.28 150.37M71.28 150.37L71.28 146.29M71.28 146.29L71.28 144.46M81.2 162.38L81.2 160.55M81.2 160.55L81.2 156.47M81.2 156.47L81.2 154.64M81.2 152.2L81.2 150.37M81.2 150.37L81.2 146.29M81.2 146.29L81.2 144.46M91.12 162.38L91.12 160.55M91.12 160.55L91.12 156.47M91.12 152.2L91.12 150.37M91.12 150.37L91.12 146.29M91.12 146.29L91.12 144.46M181.64 112.7L183.43 112.7M187.4 112.7L189.18 112.7M200.3 121.66L200.3 119.83M200.3 115.75L200.3 113.92M180.45 172.56L180.45 170.73M180.45 162.38L180.45 160.55M180.45 160.55L180.45 156.47M180.45 152.2L180.45 150.37M180.45 150.37L180.45 146.29M180.45 146.29L180.45 144.46M181.64 153.42L183.43 153.42M183.43 153.42L187.4 153.42M187.4 153.42L189.18 153.42M181.64 163.6L183.43 163.6M181.64 173.78L183.43 173.78M200.3 176.83L200.3 175M81.2 192.92L81.2 191.09M81.2 191.09L81.2 187.01M183.43 183.96L187.4 183.96M180.45 191.09L180.45 187.01M180.45 187.01L180.45 185.18M160.6 223.46L160.6 221.63M160.6 217.55L160.6 215.72M160.6 213.28L160.6 211.45M160.6 211.45L160.6 207.37M170.53 211.45L170.53 207.37M143.73 214.5L147.7 214.5M151.87 214.5L153.65 214.5M153.65 214.5L157.62 214.5M157.62 214.5L159.41 214.5M161.79 214.5L163.58 214.5M163.58 214.5L167.55 214.5M167.55 214.5L169.33 214.5M140.75 221.63L140.75 217.55M140.75 241.99L140.75 237.91M190.38 221.63L190.38 217.55M190.38 217.55L190.38 215.72M190.38 211.45L190.38 207.37M197.32 214.5L199.11 214.5M183.43 224.68L187.4 224.68M180.45 233.64L180.45 231.81M180.45 227.73L180.45 225.9M181.64 234.86L183.43 234.86M183.43 234.86L187.4 234.86M187.4 234.86L189.18 234.86M200.3 227.73L200.3 225.9M160.6 264.18L160.6 262.35M160.6 258.27L160.6 256.44M230.08 223.46L230.08 221.63M230.08 221.63L230.08 217.55M279.7 231.81L279.7 227.73M261.04 255.22L262.83 255.22M266.8 255.22L268.58 255.22M251.12 265.4L252.9 265.4" stroke="#ff0000" stroke-width="1.2" stroke-linecap="butt" fill="none"/><path d="M84.18 51.62L88.15 51.62M130.82 60.58L130.82 58.75M151.87 10.9L153.65 10.9M153.65 10.9L157.62 10.9M161.79 31.26L163.58 31.26M181.64 31.26L183.43 31.26M183.43 31.26L187.4 31.26M171.72 61.8L173.5 61.8M180.45 101.3L180.45 99.47M181.64 102.52L183.43 102.52M183.43 102.52L187.4 102.52M241.19 31.26L242.98 31.26M242.98 31.26L246.95 31.26M259.85 40.22L259.85 38.39M261.04 41.44L262.83 41.44M262.83 41.44L266.8 41.44M289.62 70.76L289.62 68.93M292.6 71.98L296.57 71.98M296.57 71.98L298.36 71.98M299.55 75.03L299.55 73.2M230.08 89.29L230.08 85.21M230.08 85.21L230.08 83.38M309.48 101.3L309.48 99.47M61.35 105.57L61.35 103.74M71.28 99.47L71.28 95.39M52.62 112.7L54.4 112.7M52.62 183.96L54.4 183.96M183.43 112.7L187.4 112.7M180.45 170.73L180.45 166.65M180.45 166.65L180.45 164.82M183.43 163.6L187.4 163.6M187.4 163.6L189.18 163.6M246.95 143.24L248.73 143.24M108 265.4L109.78 265.4M110.98 233.64L110.98 231.81M187.4 183.96L189.18 183.96M170.53 207.37L170.53 205.54M141.94 214.5L143.73 214.5M140.75 223.46L140.75 221.63M140.75 217.55L140.75 215.72M161.79 224.68L163.58 224.68M190.38 223.46L190.38 221.63M190.38 207.37L190.38 205.54M181.64 224.68L183.43 224.68M180.45 231.81L180.45 227.73M183.43 255.22L187.4 255.22M181.64 265.4L183.43 265.4M183.43 265.4L187.4 265.4M190.38 268.45L190.38 266.62M201.49 275.58L203.28 275.58M203.28 275.58L207.25 275.58M227.1 275.58L228.88 275.58M231.27 275.58L233.05 275.58M237.02 275.58L238.81 275.58M200.3 274.36L200.3 272.53M210.23 268.45L210.23 266.62M230.08 272.53L230.08 268.45M309.48 203.1L309.48 201.27M302.53 204.32L306.5 204.32M290.82 224.68L292.6 224.68M270.97 245.04L272.75 245.04M242.98 265.4L246.95 265.4" stroke="#ff6000" stroke-width="1.2" stroke-linecap="butt" fill="none"/><path d="M89.93 51.62L91.12 51.62M91.12 42.66L91.12 41.44M120.9 32.48L120.9 31.26M130.82 31.26L130.82 30.04M122.09 21.08L123.88 21.08M127.85 21.08L129.63 21.08M129.63 21.08L130.82 21.08M150.68 12.12L150.68 10.9M169.33 31.26L170.53 31.26M180.45 61.8L180.45 60.58M180.45 82.16L180.45 80.94M200.3 73.2L200.3 71.98M249.93 82.16L249.93 80.94M259.85 73.2L259.85 71.98M249.93 32.48L249.93 31.26M230.08 92.34L230.08 91.12M51.42 115.75L51.42 113.92M60.16 112.7L61.35 112.7M91.12 153.42L92.32 153.42M91.12 154.64L91.12 153.42M54.4 183.96L58.37 183.96M200.3 183.96L200.3 182.74M81.2 237.91L81.2 236.08M110.98 225.9L110.98 224.68M120.9 275.58L122.09 275.58M180.45 185.18L180.45 183.96M170.53 205.54L170.53 204.32M169.33 214.5L170.53 214.5M169.33 224.68L170.53 224.68M200.3 225.9L200.3 224.68M180.45 265.4L181.64 265.4M189.18 275.58L190.38 275.58M199.11 275.58L200.3 275.58M230.08 275.58L231.27 275.58M308.28 204.32L309.48 204.32M279.7 234.86L279.7 233.64M278.51 245.04L279.7 245.04M259.85 246.26L259.85 245.04M249.93 265.4L251.12 265.4" stroke="#d0ff00" stroke-width="1.2" stroke-linecap="butt" fill="none"/><path d="M91.12 51.62L91.12 50.4M120.9 31.26L120.9 30.04M180.45 41.44L180.45 40.22M230.08 73.2L230.08 71.98M180.45 71.98L181.64 71.98M189.18 92.34L190.38 92.34M289.62 64.85L289.62 63.02M299.55 80.94L299.55 79.11M61.35 102.52L61.35 101.3M61.35 93.56L61.35 92.34M71.28 102.52L71.28 101.3M51.42 113.92L51.42 112.7M180.45 173.78L180.45 172.56M120.9 272.53L120.9 268.45M180.45 183.96L181.64 183.96M180.45 225.9L180.45 224.68M200.3 275.58L201.49 275.58M220.15 266.62L220.15 265.4M299.55 223.46L299.55 221.63M289.62 234.86L289.62 233.64M282.68 234.86L286.65 234.86M279.7 245.04L279.7 243.82M279.7 233.64L279.7 231.81M279.7 227.73L279.7 225.9M251.12 255.22L252.9 255.22M259.85 255.22L261.04 255.22M259.85 258.27L259.85 256.44" stroke="#80ff00" stroke-width="1.2" stroke-linecap="butt" fill="none"/><path d="M113.95 41.44L117.92 41.44M117.92 41.44L119.71 41.44M122.09 41.44L123.88 41.44M130.82 58.75L130.82 54.67M130.82 54.67L130.82 52.84M140.75 24.13L140.75 22.3M150.68 30.04L150.68 28.21M180.45 19.86L180.45 18.03M180.45 13.95L180.45 12.12M187.4 21.08L189.18 21.08M180.45 40.22L180.45 38.39M180.45 38.39L180.45 34.31M180.45 34.31L180.45 32.48M187.4 31.26L189.18 31.26M181.64 41.44L183.43 41.44M180.45 58.75L180.45 54.67M177.47 61.8L179.26 61.8M160.6 80.94L160.6 79.11M170.53 75.03L170.53 73.2M200.3 80.94L200.3 79.11M200.3 79.11L200.3 75.03M200.3 75.03L200.3 73.2M220.15 75.03L220.15 73.2M230.08 80.94L230.08 79.11M230.08 79.11L230.08 75.03M249.93 79.11L249.93 75.03M269.77 75.03L269.77 73.2M181.64 71.98L183.43 71.98M181.64 82.16L183.43 82.16M187.4 82.16L189.18 82.16M181.64 92.34L183.43 92.34M183.43 92.34L187.4 92.34M180.45 95.39L180.45 93.56M187.4 102.52L189.18 102.52M246.95 31.26L248.73 31.26M252.9 31.26L256.87 31.26M256.87 31.26L258.66 31.26M249.93 40.22L249.93 38.39M249.93 38.39L249.93 34.31M259.85 38.39L259.85 34.31M259.85 34.31L259.85 32.48M266.8 41.44L268.58 41.44M269.77 50.4L269.77 48.57M269.77 48.57L269.77 44.49M269.77 44.49L269.77 42.66M230.08 91.12L230.08 89.29M64.33 153.42L68.3 153.42M78.22 153.42L80.01 153.42M82.39 153.42L84.18 153.42M84.18 153.42L88.15 153.42M98.07 153.42L99.86 153.42M91.12 156.47L91.12 154.64M200.3 119.83L200.3 115.75M180.45 156.47L180.45 154.64M191.57 153.42L193.35 153.42M193.35 153.42L197.32 153.42M197.32 153.42L199.11 153.42M183.43 173.78L187.4 173.78M187.4 173.78L189.18 173.78M200.3 182.74L200.3 180.91M200.3 180.91L200.3 176.83M200.3 172.56L200.3 170.73M200.3 170.73L200.3 166.65M200.3 166.65L200.3 164.82M81.2 187.01L81.2 185.18M101.05 213.28L101.05 211.45M101.05 211.45L101.05 207.37M101.05 207.37L101.05 205.54M110.98 227.73L110.98 225.9M181.64 183.96L183.43 183.96M180.45 192.92L180.45 191.09M160.6 221.63L160.6 217.55M160.6 207.37L160.6 205.54M170.53 213.28L170.53 211.45M147.7 214.5L149.48 214.5M163.58 224.68L167.55 224.68M167.55 224.68L169.33 224.68M140.75 243.82L140.75 241.99M140.75 237.91L140.75 236.08M190.38 213.28L190.38 211.45M191.57 214.5L193.35 214.5M193.35 214.5L197.32 214.5M187.4 224.68L189.18 224.68M200.3 233.64L200.3 231.81M200.3 231.81L200.3 227.73M160.6 262.35L160.6 258.27M181.64 255.22L183.43 255.22M187.4 255.22L189.18 255.22M187.4 265.4L189.18 265.4M181.64 275.58L183.43 275.58M187.4 275.58L189.18 275.58M193.35 275.58L197.32 275.58M207.25 275.58L209.03 275.58M211.42 275.58L213.2 275.58M223.13 275.58L227.1 275.58M233.05 275.58L237.02 275.58M200.3 268.45L200.3 266.62M210.23 274.36L210.23 272.53M210.23 272.53L210.23 268.45M220.15 274.36L220.15 272.53M220.15 272.53L220.15 268.45M230.08 217.55L230.08 215.72" stroke="#ff4000" stroke-width="1.2" stroke-linecap="butt" fill="none"/><path d="M71.28 285.76v-6M71.28 0.72v6M120.9 285.76v-6M120.9 0.72v6M170.53 285.76v-6M170.53 0.72v6M220.15 285.76v-6M220.15 0.72v6M269.77 285.76v-6M269.77 0.72v6M41.5 265.4h6M319.4 265.4h-6M41.5 214.5h6M319.4 214.5h-6M41.5 163.6h6M319.4 163.6h-6M41.5 112.7h6M319.4 112.7h-6M41.5 61.8h6M319.4 61.8h-6M41.5 10.9h6M319.4 10.9h-6" stroke="#8c8c8c" stroke-width="0.6" fill="none"/><rect x="41.5" y="0.9" width="277.9" height="284.5" fill="none" stroke="#808080" stroke-width="1.1"/><g class="t"><text transform="translate(71.28 298.06) scale(1 1.1)" text-anchor="middle"><tspan font-size="13.4" dy="1.0">−</tspan><tspan dx="1.0" dy="-1.0">10</tspan></text><text transform="translate(120.9 298.06) scale(1 1.1)" text-anchor="middle"><tspan font-size="13.4" dy="1.0">−</tspan><tspan dx="1.0" dy="-1.0">5</tspan></text><text transform="translate(170.53 298.06) scale(1 1.1)" text-anchor="middle">0</text><text transform="translate(220.15 298.06) scale(1 1.1)" text-anchor="middle">5</text><text transform="translate(269.77 298.06) scale(1 1.1)" text-anchor="middle">10</text><text transform="translate(319.4 298.06) scale(1 1.1)" text-anchor="middle">15</text><text transform="translate(37.2 269.4) scale(1 1.1)" text-anchor="end"><tspan font-size="13.4" dy="1.0">−</tspan><tspan dx="1.0" dy="-1.0">10</tspan></text><text transform="translate(37.2 218.5) scale(1 1.1)" text-anchor="end"><tspan font-size="13.4" dy="1.0">−</tspan><tspan dx="1.0" dy="-1.0">5</tspan></text><text transform="translate(37.2 167.6) scale(1 1.1)" text-anchor="end">0</text><text transform="translate(37.2 116.7) scale(1 1.1)" text-anchor="end">5</text><text transform="translate(37.2 65.8) scale(1 1.1)" text-anchor="end">10</text><text transform="translate(37.2 14.9) scale(1 1.1)" text-anchor="end">15</text><text transform="translate(180.5 313.26) scale(1 1.1)" text-anchor="middle">x</text><text transform="translate(5.2 143.4) rotate(-90) scale(1 1.1)" text-anchor="middle">y</text></g><text class="cap" x="78.1" y="331.6"><tspan font-weight="bold" font-size="15.2">(d)</tspan><tspan dx="4.6">Chips, streets, and street segments</tspan></text></g></svg>
</body></html>
